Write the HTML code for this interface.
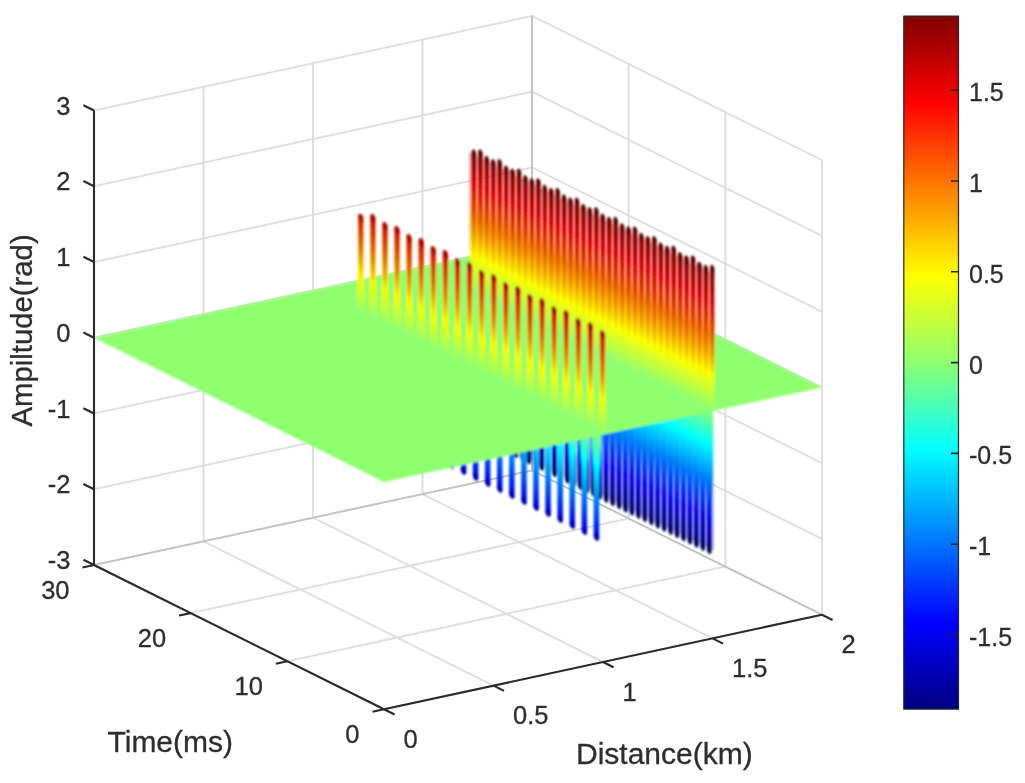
<!DOCTYPE html>
<html lang="en"><head><meta charset="utf-8"><title>Surface plot</title>
<style>html,body{margin:0;padding:0;background:#fff;}body{width:1025px;height:783px;overflow:hidden;}svg{display:block;}text{font-family:"Liberation Sans",sans-serif;fill:#2e2e2e;stroke:#2e2e2e;stroke-width:0.3px;}</style>
</head><body>
<svg width="1025" height="783" viewBox="0 0 1025 783">
<defs>
<linearGradient id="jet" gradientUnits="userSpaceOnUse" x1="0" y1="-144.53" x2="0" y2="144.53">
<stop offset="0" stop-color="#800000"/>
<stop offset="0.125" stop-color="#ff0000"/>
<stop offset="0.375" stop-color="#ffff00"/>
<stop offset="0.5" stop-color="#8fff70"/>
<stop offset="0.625" stop-color="#00ffff"/>
<stop offset="0.875" stop-color="#0000ff"/>
<stop offset="1" stop-color="#000080"/>
</linearGradient>
<linearGradient id="cb" x1="0" y1="0" x2="0" y2="1">
<stop offset="0" stop-color="#800000"/>
<stop offset="0.125" stop-color="#ff0000"/>
<stop offset="0.375" stop-color="#ffff00"/>
<stop offset="0.5" stop-color="#8fff70"/>
<stop offset="0.625" stop-color="#00ffff"/>
<stop offset="0.875" stop-color="#0000ff"/>
<stop offset="1" stop-color="#000080"/>
</linearGradient>
<filter id="soft" filterUnits="userSpaceOnUse" x="0" y="0" width="1025" height="783"><feGaussianBlur stdDeviation="0.8"/></filter>
<linearGradient id="dk" gradientUnits="userSpaceOnUse" x1="0" y1="-144.53" x2="0" y2="144.53">
<stop offset="0" stop-color="#5a0000" stop-opacity="0.7"/>
<stop offset="0.16" stop-color="#5a0000" stop-opacity="0.45"/>
<stop offset="0.3" stop-color="#5a0000" stop-opacity="0.25"/>
<stop offset="0.4" stop-color="#5a0000" stop-opacity="0"/>
<stop offset="0.62" stop-color="#000020" stop-opacity="0"/>
<stop offset="0.86" stop-color="#000020" stop-opacity="0.12"/>
<stop offset="1" stop-color="#000020" stop-opacity="0.42"/>
</linearGradient>
<clipPath id="cl" clipPathUnits="userSpaceOnUse"><rect x="-400" y="-200" width="400.6" height="400"/></clipPath>
</defs>
<rect width="1025" height="783" fill="#fff"/>
<path d="M94,565 L94,110.5 M384,709.3 L94,565 M203.5,541.35 L203.5,86.85 M493.5,685.65 L203.5,541.35 M313,517.7 L313,63.2 M603,662 L313,517.7 M422.5,494.05 L422.5,39.55 M712.5,638.35 L422.5,494.05 M532,470.4 L532,15.9 M822,614.7 L532,470.4 M822,614.7 L822,160.2 M384,709.3 L822,614.7 M725.33,566.6 L725.33,112.1 M287.33,661.2 L725.33,566.6 M628.67,518.5 L628.67,64 M190.67,613.1 L628.67,518.5 M532,470.4 L532,15.9 M94,565 L532,470.4 M94,565 L532,470.4 M532,470.4 L822,614.7 M94,489.25 L532,394.65 M532,394.65 L822,538.95 M94,413.5 L532,318.9 M532,318.9 L822,463.2 M94,337.75 L532,243.15 M532,243.15 L822,387.45 M94,262 L532,167.4 M532,167.4 L822,311.7 M94,186.25 L532,91.65 M532,91.65 L822,235.95 M94,110.5 L532,15.9 M532,15.9 L822,160.2" fill="none" stroke="#000" stroke-opacity="0.125" stroke-width="2" stroke-linecap="round"/>
<path d="M532,470.4 L532,15.9 M94,565 L532,470.4 M822,614.7 L532,470.4" fill="none" stroke="#000" stroke-opacity="0.125" stroke-width="2" stroke-linecap="round"/>
<g filter="url(#soft)">
<g transform="matrix(1,0.49759,0,1,714,410.78)" clip-path="url(#cl)"><rect x="-245.1" y="0" width="245.1" height="140.06" fill="url(#jet)" fill-opacity="0.3"/><path fill="url(#jet)" d="M-8.43,0 L-8.43,10.44 L-8.43,20.89 L-8.43,31.33 L-8.43,41.78 L-8.43,52.22 L-8.35,62.67 L-8.03,73.11 L-7.6,83.56 L-7.24,94 L-7.08,104.44 L-7.08,142.06 L-7.01,142.84 L-6.78,143.56 L-6.42,144.18 L-5.96,144.66 L-5.42,144.96 L-4.83,145.06 L-4.83,145.06 L-4.25,144.96 L-3.71,144.66 L-3.24,144.18 L-2.88,143.56 L-2.66,142.84 L-2.58,142.06 L-2.58,104.44 L-2.43,94 L-2.06,83.56 L-1.64,73.11 L-1.32,62.67 L-1.23,52.22 L-1.23,41.78 L-1.23,31.33 L-1.23,20.89 L-1.23,10.44 L-1.23,0Z M-14.88,0 L-14.88,10.44 L-14.88,20.89 L-14.88,31.33 L-14.88,41.78 L-14.88,52.22 L-14.79,62.67 L-14.47,73.11 L-14.05,83.56 L-13.68,94 L-13.53,104.44 L-13.53,142.06 L-13.45,142.84 L-13.23,143.56 L-12.87,144.18 L-12.4,144.66 L-11.86,144.96 L-11.28,145.06 L-11.28,145.06 L-10.7,144.96 L-10.15,144.66 L-9.69,144.18 L-9.33,143.56 L-9.1,142.84 L-9.03,142.06 L-9.03,104.44 L-8.87,94 L-8.51,83.56 L-8.09,73.11 L-7.76,62.67 L-7.68,52.22 L-7.68,41.78 L-7.68,31.33 L-7.68,20.89 L-7.68,10.44 L-7.68,0Z M-21.32,0 L-21.32,10.44 L-21.32,20.89 L-21.32,31.33 L-21.32,41.78 L-21.32,52.22 L-21.24,62.67 L-20.91,73.11 L-20.49,83.56 L-20.13,94 L-19.97,104.44 L-19.97,142.06 L-19.9,142.84 L-19.67,143.56 L-19.31,144.18 L-18.85,144.66 L-18.3,144.96 L-17.72,145.06 L-17.72,145.06 L-17.14,144.96 L-16.6,144.66 L-16.13,144.18 L-15.77,143.56 L-15.55,142.84 L-15.47,142.06 L-15.47,104.44 L-15.32,94 L-14.95,83.56 L-14.53,73.11 L-14.21,62.67 L-14.12,52.22 L-14.12,41.78 L-14.12,31.33 L-14.12,20.89 L-14.12,10.44 L-14.12,0Z M-27.77,0 L-27.77,10.44 L-27.77,20.89 L-27.77,31.33 L-27.77,41.78 L-27.77,52.22 L-27.68,62.67 L-27.36,73.11 L-26.94,83.56 L-26.57,94 L-26.42,104.44 L-26.42,142.06 L-26.34,142.84 L-26.12,143.56 L-25.76,144.18 L-25.29,144.66 L-24.75,144.96 L-24.17,145.06 L-24.17,145.06 L-23.58,144.96 L-23.04,144.66 L-22.58,144.18 L-22.22,143.56 L-21.99,142.84 L-21.92,142.06 L-21.92,104.44 L-21.76,94 L-21.4,83.56 L-20.97,73.11 L-20.65,62.67 L-20.57,52.22 L-20.57,41.78 L-20.57,31.33 L-20.57,20.89 L-20.57,10.44 L-20.57,0Z M-34.21,0 L-34.21,10.44 L-34.21,20.89 L-34.21,31.33 L-34.21,41.78 L-34.21,52.22 L-34.13,62.67 L-33.8,73.11 L-33.38,83.56 L-33.02,94 L-32.86,104.44 L-32.86,142.06 L-32.78,142.84 L-32.56,143.56 L-32.2,144.18 L-31.74,144.66 L-31.19,144.96 L-30.61,145.06 L-30.61,145.06 L-30.03,144.96 L-29.49,144.66 L-29.02,144.18 L-28.66,143.56 L-28.44,142.84 L-28.36,142.06 L-28.36,104.44 L-28.21,94 L-27.84,83.56 L-27.42,73.11 L-27.1,62.67 L-27.01,52.22 L-27.01,41.78 L-27.01,31.33 L-27.01,20.89 L-27.01,10.44 L-27.01,0Z M-40.66,0 L-40.66,10.44 L-40.66,20.89 L-40.66,31.33 L-40.66,41.78 L-40.66,52.22 L-40.57,62.67 L-40.25,73.11 L-39.83,83.56 L-39.46,94 L-39.31,104.44 L-39.31,142.06 L-39.23,142.84 L-39,143.56 L-38.65,144.18 L-38.18,144.66 L-37.64,144.96 L-37.06,145.06 L-37.06,145.06 L-36.47,144.96 L-35.93,144.66 L-35.46,144.18 L-35.11,143.56 L-34.88,142.84 L-34.81,142.06 L-34.81,104.44 L-34.65,94 L-34.28,83.56 L-33.86,73.11 L-33.54,62.67 L-33.46,52.22 L-33.46,41.78 L-33.46,31.33 L-33.46,20.89 L-33.46,10.44 L-33.46,0Z M-47.1,0 L-47.1,10.44 L-47.1,20.89 L-47.1,31.33 L-47.1,41.78 L-47.1,52.22 L-47.01,62.67 L-46.69,73.11 L-46.27,83.56 L-45.91,94 L-45.75,104.44 L-45.75,142.06 L-45.67,142.84 L-45.45,143.56 L-45.09,144.18 L-44.62,144.66 L-44.08,144.96 L-43.5,145.06 L-43.5,145.06 L-42.92,144.96 L-42.38,144.66 L-41.91,144.18 L-41.55,143.56 L-41.33,142.84 L-41.25,142.06 L-41.25,104.44 L-41.09,94 L-40.73,83.56 L-40.31,73.11 L-39.99,62.67 L-39.9,52.22 L-39.9,41.78 L-39.9,31.33 L-39.9,20.89 L-39.9,10.44 L-39.9,0Z M-53.54,0 L-53.54,10.44 L-53.54,20.89 L-53.54,31.33 L-53.54,41.78 L-53.54,52.22 L-53.46,62.67 L-53.14,73.11 L-52.72,83.56 L-52.35,94 L-52.19,104.44 L-52.19,142.06 L-52.12,142.84 L-51.89,143.56 L-51.54,144.18 L-51.07,144.66 L-50.53,144.96 L-49.94,145.06 L-49.94,145.06 L-49.36,144.96 L-48.82,144.66 L-48.35,144.18 L-48,143.56 L-47.77,142.84 L-47.69,142.06 L-47.69,104.44 L-47.54,94 L-47.17,83.56 L-46.75,73.11 L-46.43,62.67 L-46.34,52.22 L-46.34,41.78 L-46.34,31.33 L-46.34,20.89 L-46.34,10.44 L-46.34,0Z M-59.99,0 L-59.99,10.44 L-59.99,20.89 L-59.99,31.33 L-59.99,41.78 L-59.99,52.22 L-59.9,62.67 L-59.58,73.11 L-59.16,83.56 L-58.79,94 L-58.64,104.44 L-58.64,142.06 L-58.56,142.84 L-58.34,143.56 L-57.98,144.18 L-57.51,144.66 L-56.97,144.96 L-56.39,145.06 L-56.39,145.06 L-55.81,144.96 L-55.26,144.66 L-54.8,144.18 L-54.44,143.56 L-54.22,142.84 L-54.14,142.06 L-54.14,104.44 L-53.98,94 L-53.62,83.56 L-53.2,73.11 L-52.87,62.67 L-52.79,52.22 L-52.79,41.78 L-52.79,31.33 L-52.79,20.89 L-52.79,10.44 L-52.79,0Z M-66.43,0 L-66.43,10.44 L-66.43,20.89 L-66.43,31.33 L-66.43,41.78 L-66.43,52.22 L-66.35,62.67 L-66.03,73.11 L-65.6,83.56 L-65.24,94 L-65.08,104.44 L-65.08,142.06 L-65.01,142.84 L-64.78,143.56 L-64.42,144.18 L-63.96,144.66 L-63.42,144.96 L-62.83,145.06 L-62.83,145.06 L-62.25,144.96 L-61.71,144.66 L-61.24,144.18 L-60.88,143.56 L-60.66,142.84 L-60.58,142.06 L-60.58,104.44 L-60.43,94 L-60.06,83.56 L-59.64,73.11 L-59.32,62.67 L-59.23,52.22 L-59.23,41.78 L-59.23,31.33 L-59.23,20.89 L-59.23,10.44 L-59.23,0Z M-72.88,0 L-72.88,10.44 L-72.88,20.89 L-72.88,31.33 L-72.88,41.78 L-72.88,52.22 L-72.79,62.67 L-72.47,73.11 L-72.05,83.56 L-71.68,94 L-71.53,104.44 L-71.53,142.06 L-71.45,142.84 L-71.23,143.56 L-70.87,144.18 L-70.4,144.66 L-69.86,144.96 L-69.28,145.06 L-69.28,145.06 L-68.7,144.96 L-68.15,144.66 L-67.69,144.18 L-67.33,143.56 L-67.1,142.84 L-67.03,142.06 L-67.03,104.44 L-66.87,94 L-66.51,83.56 L-66.09,73.11 L-65.76,62.67 L-65.68,52.22 L-65.68,41.78 L-65.68,31.33 L-65.68,20.89 L-65.68,10.44 L-65.68,0Z M-79.32,0 L-79.32,10.44 L-79.32,20.89 L-79.32,31.33 L-79.32,41.78 L-79.32,52.22 L-79.24,62.67 L-78.91,73.11 L-78.49,83.56 L-78.13,94 L-77.97,104.44 L-77.97,142.06 L-77.9,142.84 L-77.67,143.56 L-77.31,144.18 L-76.85,144.66 L-76.3,144.96 L-75.72,145.06 L-75.72,145.06 L-75.14,144.96 L-74.6,144.66 L-74.13,144.18 L-73.77,143.56 L-73.55,142.84 L-73.47,142.06 L-73.47,104.44 L-73.32,94 L-72.95,83.56 L-72.53,73.11 L-72.21,62.67 L-72.12,52.22 L-72.12,41.78 L-72.12,31.33 L-72.12,20.89 L-72.12,10.44 L-72.12,0Z M-85.77,0 L-85.77,10.44 L-85.77,20.89 L-85.77,31.33 L-85.77,41.78 L-85.77,52.22 L-85.68,62.67 L-85.36,73.11 L-84.94,83.56 L-84.57,94 L-84.42,104.44 L-84.42,142.06 L-84.34,142.84 L-84.12,143.56 L-83.76,144.18 L-83.29,144.66 L-82.75,144.96 L-82.17,145.06 L-82.17,145.06 L-81.58,144.96 L-81.04,144.66 L-80.58,144.18 L-80.22,143.56 L-79.99,142.84 L-79.92,142.06 L-79.92,104.44 L-79.76,94 L-79.4,83.56 L-78.97,73.11 L-78.65,62.67 L-78.57,52.22 L-78.57,41.78 L-78.57,31.33 L-78.57,20.89 L-78.57,10.44 L-78.57,0Z M-92.21,0 L-92.21,10.44 L-92.21,20.89 L-92.21,31.33 L-92.21,41.78 L-92.21,52.22 L-92.13,62.67 L-91.8,73.11 L-91.38,83.56 L-91.02,94 L-90.86,104.44 L-90.86,142.06 L-90.78,142.84 L-90.56,143.56 L-90.2,144.18 L-89.74,144.66 L-89.19,144.96 L-88.61,145.06 L-88.61,145.06 L-88.03,144.96 L-87.49,144.66 L-87.02,144.18 L-86.66,143.56 L-86.44,142.84 L-86.36,142.06 L-86.36,104.44 L-86.21,94 L-85.84,83.56 L-85.42,73.11 L-85.1,62.67 L-85.01,52.22 L-85.01,41.78 L-85.01,31.33 L-85.01,20.89 L-85.01,10.44 L-85.01,0Z M-98.66,0 L-98.66,10.44 L-98.66,20.89 L-98.66,31.33 L-98.66,41.78 L-98.66,52.22 L-98.57,62.67 L-98.25,73.11 L-97.83,83.56 L-97.46,94 L-97.31,104.44 L-97.31,142.06 L-97.23,142.84 L-97,143.56 L-96.65,144.18 L-96.18,144.66 L-95.64,144.96 L-95.06,145.06 L-95.06,145.06 L-94.47,144.96 L-93.93,144.66 L-93.46,144.18 L-93.11,143.56 L-92.88,142.84 L-92.81,142.06 L-92.81,104.44 L-92.65,94 L-92.28,83.56 L-91.86,73.11 L-91.54,62.67 L-91.46,52.22 L-91.46,41.78 L-91.46,31.33 L-91.46,20.89 L-91.46,10.44 L-91.46,0Z M-105.1,0 L-105.1,10.44 L-105.1,20.89 L-105.1,31.33 L-105.1,41.78 L-105.1,52.22 L-105.01,62.67 L-104.69,73.11 L-104.27,83.56 L-103.91,94 L-103.75,104.44 L-103.75,142.06 L-103.67,142.84 L-103.45,143.56 L-103.09,144.18 L-102.62,144.66 L-102.08,144.96 L-101.5,145.06 L-101.5,145.06 L-100.92,144.96 L-100.38,144.66 L-99.91,144.18 L-99.55,143.56 L-99.33,142.84 L-99.25,142.06 L-99.25,104.44 L-99.09,94 L-98.73,83.56 L-98.31,73.11 L-97.99,62.67 L-97.9,52.22 L-97.9,41.78 L-97.9,31.33 L-97.9,20.89 L-97.9,10.44 L-97.9,0Z M-111.54,0 L-111.54,10.44 L-111.54,20.89 L-111.54,31.33 L-111.54,41.78 L-111.54,52.22 L-111.46,62.67 L-111.14,73.11 L-110.72,83.56 L-110.35,94 L-110.19,104.44 L-110.19,142.06 L-110.12,142.84 L-109.89,143.56 L-109.54,144.18 L-109.07,144.66 L-108.53,144.96 L-107.94,145.06 L-107.94,145.06 L-107.36,144.96 L-106.82,144.66 L-106.35,144.18 L-106,143.56 L-105.77,142.84 L-105.69,142.06 L-105.69,104.44 L-105.54,94 L-105.17,83.56 L-104.75,73.11 L-104.43,62.67 L-104.34,52.22 L-104.34,41.78 L-104.34,31.33 L-104.34,20.89 L-104.34,10.44 L-104.34,0Z M-117.99,0 L-117.99,10.44 L-117.99,20.89 L-117.99,31.33 L-117.99,41.78 L-117.99,52.22 L-117.9,62.67 L-117.58,73.11 L-117.16,83.56 L-116.79,94 L-116.64,104.44 L-116.64,142.06 L-116.56,142.84 L-116.34,143.56 L-115.98,144.18 L-115.51,144.66 L-114.97,144.96 L-114.39,145.06 L-114.39,145.06 L-113.81,144.96 L-113.26,144.66 L-112.8,144.18 L-112.44,143.56 L-112.22,142.84 L-112.14,142.06 L-112.14,104.44 L-111.98,94 L-111.62,83.56 L-111.2,73.11 L-110.87,62.67 L-110.79,52.22 L-110.79,41.78 L-110.79,31.33 L-110.79,20.89 L-110.79,10.44 L-110.79,0Z M-124.43,0 L-124.43,10.44 L-124.43,20.89 L-124.43,31.33 L-124.43,41.78 L-124.43,52.22 L-124.35,62.67 L-124.03,73.11 L-123.6,83.56 L-123.24,94 L-123.08,104.44 L-123.08,142.06 L-123.01,142.84 L-122.78,143.56 L-122.42,144.18 L-121.96,144.66 L-121.42,144.96 L-120.83,145.06 L-120.83,145.06 L-120.25,144.96 L-119.71,144.66 L-119.24,144.18 L-118.88,143.56 L-118.66,142.84 L-118.58,142.06 L-118.58,104.44 L-118.43,94 L-118.06,83.56 L-117.64,73.11 L-117.32,62.67 L-117.23,52.22 L-117.23,41.78 L-117.23,31.33 L-117.23,20.89 L-117.23,10.44 L-117.23,0Z M-130.88,0 L-130.88,10.44 L-130.88,20.89 L-130.88,31.33 L-130.88,41.78 L-130.88,52.22 L-130.79,62.67 L-130.47,73.11 L-130.05,83.56 L-129.68,94 L-129.53,104.44 L-129.53,142.06 L-129.45,142.84 L-129.23,143.56 L-128.87,144.18 L-128.4,144.66 L-127.86,144.96 L-127.28,145.06 L-127.28,145.06 L-126.7,144.96 L-126.15,144.66 L-125.69,144.18 L-125.33,143.56 L-125.1,142.84 L-125.03,142.06 L-125.03,104.44 L-124.87,94 L-124.51,83.56 L-124.09,73.11 L-123.76,62.67 L-123.68,52.22 L-123.68,41.78 L-123.68,31.33 L-123.68,20.89 L-123.68,10.44 L-123.68,0Z M-137.32,0 L-137.32,10.44 L-137.32,20.89 L-137.32,31.33 L-137.32,41.78 L-137.32,52.22 L-137.24,62.67 L-136.91,73.11 L-136.49,83.56 L-136.13,94 L-135.97,104.44 L-135.97,142.06 L-135.9,142.84 L-135.67,143.56 L-135.31,144.18 L-134.85,144.66 L-134.3,144.96 L-133.72,145.06 L-133.72,145.06 L-133.14,144.96 L-132.6,144.66 L-132.13,144.18 L-131.77,143.56 L-131.55,142.84 L-131.47,142.06 L-131.47,104.44 L-131.32,94 L-130.95,83.56 L-130.53,73.11 L-130.21,62.67 L-130.12,52.22 L-130.12,41.78 L-130.12,31.33 L-130.12,20.89 L-130.12,10.44 L-130.12,0Z M-143.77,0 L-143.77,10.44 L-143.77,20.89 L-143.77,31.33 L-143.77,41.78 L-143.77,52.22 L-143.68,62.67 L-143.36,73.11 L-142.94,83.56 L-142.57,94 L-142.42,104.44 L-142.42,142.06 L-142.34,142.84 L-142.12,143.56 L-141.76,144.18 L-141.29,144.66 L-140.75,144.96 L-140.17,145.06 L-140.17,145.06 L-139.58,144.96 L-139.04,144.66 L-138.58,144.18 L-138.22,143.56 L-137.99,142.84 L-137.92,142.06 L-137.92,104.44 L-137.76,94 L-137.4,83.56 L-136.97,73.11 L-136.65,62.67 L-136.57,52.22 L-136.57,41.78 L-136.57,31.33 L-136.57,20.89 L-136.57,10.44 L-136.57,0Z M-150.21,0 L-150.21,10.44 L-150.21,20.89 L-150.21,31.33 L-150.21,41.78 L-150.21,52.22 L-150.13,62.67 L-149.8,73.11 L-149.38,83.56 L-149.02,94 L-148.86,104.44 L-148.86,142.06 L-148.78,142.84 L-148.56,143.56 L-148.2,144.18 L-147.74,144.66 L-147.19,144.96 L-146.61,145.06 L-146.61,145.06 L-146.03,144.96 L-145.49,144.66 L-145.02,144.18 L-144.66,143.56 L-144.44,142.84 L-144.36,142.06 L-144.36,104.44 L-144.21,94 L-143.84,83.56 L-143.42,73.11 L-143.1,62.67 L-143.01,52.22 L-143.01,41.78 L-143.01,31.33 L-143.01,20.89 L-143.01,10.44 L-143.01,0Z M-156.66,0 L-156.66,10.44 L-156.66,20.89 L-156.66,31.33 L-156.66,41.78 L-156.66,52.22 L-156.57,62.67 L-156.25,73.11 L-155.83,83.56 L-155.46,94 L-155.31,104.44 L-155.31,142.06 L-155.23,142.84 L-155,143.56 L-154.65,144.18 L-154.18,144.66 L-153.64,144.96 L-153.06,145.06 L-153.06,145.06 L-152.47,144.96 L-151.93,144.66 L-151.46,144.18 L-151.11,143.56 L-150.88,142.84 L-150.81,142.06 L-150.81,104.44 L-150.65,94 L-150.28,83.56 L-149.86,73.11 L-149.54,62.67 L-149.46,52.22 L-149.46,41.78 L-149.46,31.33 L-149.46,20.89 L-149.46,10.44 L-149.46,0Z M-163.1,0 L-163.1,10.44 L-163.1,20.89 L-163.1,31.33 L-163.1,41.78 L-163.1,52.22 L-163.01,62.67 L-162.69,73.11 L-162.27,83.56 L-161.91,94 L-161.75,104.44 L-161.75,142.06 L-161.67,142.84 L-161.45,143.56 L-161.09,144.18 L-160.62,144.66 L-160.08,144.96 L-159.5,145.06 L-159.5,145.06 L-158.92,144.96 L-158.38,144.66 L-157.91,144.18 L-157.55,143.56 L-157.33,142.84 L-157.25,142.06 L-157.25,104.44 L-157.09,94 L-156.73,83.56 L-156.31,73.11 L-155.99,62.67 L-155.9,52.22 L-155.9,41.78 L-155.9,31.33 L-155.9,20.89 L-155.9,10.44 L-155.9,0Z M-169.54,0 L-169.54,10.44 L-169.54,20.89 L-169.54,31.33 L-169.54,41.78 L-169.54,52.22 L-169.46,62.67 L-169.14,73.11 L-168.72,83.56 L-168.35,94 L-168.19,104.44 L-168.19,142.06 L-168.12,142.84 L-167.89,143.56 L-167.54,144.18 L-167.07,144.66 L-166.53,144.96 L-165.94,145.06 L-165.94,145.06 L-165.36,144.96 L-164.82,144.66 L-164.35,144.18 L-164,143.56 L-163.77,142.84 L-163.69,142.06 L-163.69,104.44 L-163.54,94 L-163.17,83.56 L-162.75,73.11 L-162.43,62.67 L-162.34,52.22 L-162.34,41.78 L-162.34,31.33 L-162.34,20.89 L-162.34,10.44 L-162.34,0Z M-175.99,0 L-175.99,10.44 L-175.99,20.89 L-175.99,31.33 L-175.99,41.78 L-175.99,52.22 L-175.9,62.67 L-175.58,73.11 L-175.16,83.56 L-174.79,94 L-174.64,104.44 L-174.64,142.06 L-174.56,142.84 L-174.34,143.56 L-173.98,144.18 L-173.51,144.66 L-172.97,144.96 L-172.39,145.06 L-172.39,145.06 L-171.81,144.96 L-171.26,144.66 L-170.8,144.18 L-170.44,143.56 L-170.22,142.84 L-170.14,142.06 L-170.14,104.44 L-169.98,94 L-169.62,83.56 L-169.2,73.11 L-168.87,62.67 L-168.79,52.22 L-168.79,41.78 L-168.79,31.33 L-168.79,20.89 L-168.79,10.44 L-168.79,0Z M-182.43,0 L-182.43,10.44 L-182.43,20.89 L-182.43,31.33 L-182.43,41.78 L-182.43,52.22 L-182.35,62.67 L-182.03,73.11 L-181.6,83.56 L-181.24,94 L-181.08,104.44 L-181.08,142.06 L-181.01,142.84 L-180.78,143.56 L-180.42,144.18 L-179.96,144.66 L-179.42,144.96 L-178.83,145.06 L-178.83,145.06 L-178.25,144.96 L-177.71,144.66 L-177.24,144.18 L-176.88,143.56 L-176.66,142.84 L-176.58,142.06 L-176.58,104.44 L-176.43,94 L-176.06,83.56 L-175.64,73.11 L-175.32,62.67 L-175.23,52.22 L-175.23,41.78 L-175.23,31.33 L-175.23,20.89 L-175.23,10.44 L-175.23,0Z M-188.88,0 L-188.88,10.44 L-188.88,20.89 L-188.88,31.33 L-188.88,41.78 L-188.88,52.22 L-188.79,62.67 L-188.47,73.11 L-188.05,83.56 L-187.68,94 L-187.53,104.44 L-187.53,142.06 L-187.45,142.84 L-187.23,143.56 L-186.87,144.18 L-186.4,144.66 L-185.86,144.96 L-185.28,145.06 L-185.28,145.06 L-184.7,144.96 L-184.15,144.66 L-183.69,144.18 L-183.33,143.56 L-183.1,142.84 L-183.03,142.06 L-183.03,104.44 L-182.87,94 L-182.51,83.56 L-182.09,73.11 L-181.76,62.67 L-181.68,52.22 L-181.68,41.78 L-181.68,31.33 L-181.68,20.89 L-181.68,10.44 L-181.68,0Z M-195.32,0 L-195.32,10.44 L-195.32,20.89 L-195.32,31.33 L-195.32,41.78 L-195.32,52.22 L-195.24,62.67 L-194.91,73.11 L-194.49,83.56 L-194.13,94 L-193.97,104.44 L-193.97,142.06 L-193.9,142.84 L-193.67,143.56 L-193.31,144.18 L-192.85,144.66 L-192.3,144.96 L-191.72,145.06 L-191.72,145.06 L-191.14,144.96 L-190.6,144.66 L-190.13,144.18 L-189.77,143.56 L-189.55,142.84 L-189.47,142.06 L-189.47,104.44 L-189.32,94 L-188.95,83.56 L-188.53,73.11 L-188.21,62.67 L-188.12,52.22 L-188.12,41.78 L-188.12,31.33 L-188.12,20.89 L-188.12,10.44 L-188.12,0Z M-201.77,0 L-201.77,10.44 L-201.77,20.89 L-201.77,31.33 L-201.77,41.78 L-201.77,52.22 L-201.68,62.67 L-201.36,73.11 L-200.94,83.56 L-200.57,94 L-200.42,104.44 L-200.42,142.06 L-200.34,142.84 L-200.12,143.56 L-199.76,144.18 L-199.29,144.66 L-198.75,144.96 L-198.17,145.06 L-198.17,145.06 L-197.58,144.96 L-197.04,144.66 L-196.58,144.18 L-196.22,143.56 L-195.99,142.84 L-195.92,142.06 L-195.92,104.44 L-195.76,94 L-195.4,83.56 L-194.97,73.11 L-194.65,62.67 L-194.57,52.22 L-194.57,41.78 L-194.57,31.33 L-194.57,20.89 L-194.57,10.44 L-194.57,0Z M-208.21,0 L-208.21,10.44 L-208.21,20.89 L-208.21,31.33 L-208.21,41.78 L-208.21,52.22 L-208.13,62.67 L-207.8,73.11 L-207.38,83.56 L-207.02,94 L-206.86,104.44 L-206.86,142.06 L-206.78,142.84 L-206.56,143.56 L-206.2,144.18 L-205.74,144.66 L-205.19,144.96 L-204.61,145.06 L-204.61,145.06 L-204.03,144.96 L-203.49,144.66 L-203.02,144.18 L-202.66,143.56 L-202.44,142.84 L-202.36,142.06 L-202.36,104.44 L-202.21,94 L-201.84,83.56 L-201.42,73.11 L-201.1,62.67 L-201.01,52.22 L-201.01,41.78 L-201.01,31.33 L-201.01,20.89 L-201.01,10.44 L-201.01,0Z M-214.66,0 L-214.66,10.44 L-214.66,20.89 L-214.66,31.33 L-214.66,41.78 L-214.66,52.22 L-214.57,62.67 L-214.25,73.11 L-213.83,83.56 L-213.46,94 L-213.31,104.44 L-213.31,142.06 L-213.23,142.84 L-213,143.56 L-212.65,144.18 L-212.18,144.66 L-211.64,144.96 L-211.06,145.06 L-211.06,145.06 L-210.47,144.96 L-209.93,144.66 L-209.46,144.18 L-209.11,143.56 L-208.88,142.84 L-208.81,142.06 L-208.81,104.44 L-208.65,94 L-208.28,83.56 L-207.86,73.11 L-207.54,62.67 L-207.46,52.22 L-207.46,41.78 L-207.46,31.33 L-207.46,20.89 L-207.46,10.44 L-207.46,0Z M-221.1,0 L-221.1,10.44 L-221.1,20.89 L-221.1,31.33 L-221.1,41.78 L-221.1,52.22 L-221.01,62.67 L-220.69,73.11 L-220.27,83.56 L-219.91,94 L-219.75,104.44 L-219.75,142.06 L-219.67,142.84 L-219.45,143.56 L-219.09,144.18 L-218.62,144.66 L-218.08,144.96 L-217.5,145.06 L-217.5,145.06 L-216.92,144.96 L-216.38,144.66 L-215.91,144.18 L-215.55,143.56 L-215.33,142.84 L-215.25,142.06 L-215.25,104.44 L-215.09,94 L-214.73,83.56 L-214.31,73.11 L-213.99,62.67 L-213.9,52.22 L-213.9,41.78 L-213.9,31.33 L-213.9,20.89 L-213.9,10.44 L-213.9,0Z M-227.54,0 L-227.54,10.44 L-227.54,20.89 L-227.54,31.33 L-227.54,41.78 L-227.54,52.22 L-227.46,62.67 L-227.14,73.11 L-226.72,83.56 L-226.35,94 L-226.19,104.44 L-226.19,142.06 L-226.12,142.84 L-225.89,143.56 L-225.54,144.18 L-225.07,144.66 L-224.53,144.96 L-223.94,145.06 L-223.94,145.06 L-223.36,144.96 L-222.82,144.66 L-222.35,144.18 L-222,143.56 L-221.77,142.84 L-221.69,142.06 L-221.69,104.44 L-221.54,94 L-221.17,83.56 L-220.75,73.11 L-220.43,62.67 L-220.34,52.22 L-220.34,41.78 L-220.34,31.33 L-220.34,20.89 L-220.34,10.44 L-220.34,0Z M-233.99,0 L-233.99,10.44 L-233.99,20.89 L-233.99,31.33 L-233.99,41.78 L-233.99,52.22 L-233.9,62.67 L-233.58,73.11 L-233.16,83.56 L-232.79,94 L-232.64,104.44 L-232.64,142.06 L-232.56,142.84 L-232.34,143.56 L-231.98,144.18 L-231.51,144.66 L-230.97,144.96 L-230.39,145.06 L-230.39,145.06 L-229.81,144.96 L-229.26,144.66 L-228.8,144.18 L-228.44,143.56 L-228.22,142.84 L-228.14,142.06 L-228.14,104.44 L-227.98,94 L-227.62,83.56 L-227.2,73.11 L-226.87,62.67 L-226.79,52.22 L-226.79,41.78 L-226.79,31.33 L-226.79,20.89 L-226.79,10.44 L-226.79,0Z M-240.43,0 L-240.43,10.44 L-240.43,20.89 L-240.43,31.33 L-240.43,41.78 L-240.43,52.22 L-240.35,62.67 L-240.03,73.11 L-239.6,83.56 L-239.24,94 L-239.08,104.44 L-239.08,142.06 L-239.01,142.84 L-238.78,143.56 L-238.42,144.18 L-237.96,144.66 L-237.42,144.96 L-236.83,145.06 L-236.83,145.06 L-236.25,144.96 L-235.71,144.66 L-235.24,144.18 L-234.88,143.56 L-234.66,142.84 L-234.58,142.06 L-234.58,104.44 L-234.43,94 L-234.06,83.56 L-233.64,73.11 L-233.32,62.67 L-233.23,52.22 L-233.23,41.78 L-233.23,31.33 L-233.23,20.89 L-233.23,10.44 L-233.23,0Z M-246.88,0 L-246.88,10.44 L-246.88,20.89 L-246.88,31.33 L-246.88,41.78 L-246.88,52.22 L-246.79,62.67 L-246.47,73.11 L-246.05,83.56 L-245.68,94 L-245.53,104.44 L-245.53,142.06 L-245.45,142.84 L-245.23,143.56 L-244.87,144.18 L-244.4,144.66 L-243.86,144.96 L-243.28,145.06 L-243.28,145.06 L-242.7,144.96 L-242.15,144.66 L-241.69,144.18 L-241.33,143.56 L-241.1,142.84 L-241.03,142.06 L-241.03,104.44 L-240.87,94 L-240.51,83.56 L-240.09,73.11 L-239.76,62.67 L-239.68,52.22 L-239.68,41.78 L-239.68,31.33 L-239.68,20.89 L-239.68,10.44 L-239.68,0Z"/><path fill="url(#dk)" d="M-5.93,143.06 L-3.73,143.06 L-3.73,30.3 L-5.93,30.3Z M-12.38,143.06 L-10.18,143.06 L-10.18,30.3 L-12.38,30.3Z M-18.82,143.06 L-16.62,143.06 L-16.62,30.3 L-18.82,30.3Z M-25.27,143.06 L-23.07,143.06 L-23.07,30.3 L-25.27,30.3Z M-31.71,143.06 L-29.51,143.06 L-29.51,30.3 L-31.71,30.3Z M-38.16,143.06 L-35.96,143.06 L-35.96,30.3 L-38.16,30.3Z M-44.6,143.06 L-42.4,143.06 L-42.4,30.3 L-44.6,30.3Z M-51.04,143.06 L-48.84,143.06 L-48.84,30.3 L-51.04,30.3Z M-57.49,143.06 L-55.29,143.06 L-55.29,30.3 L-57.49,30.3Z M-63.93,143.06 L-61.73,143.06 L-61.73,30.3 L-63.93,30.3Z M-70.38,143.06 L-68.18,143.06 L-68.18,30.3 L-70.38,30.3Z M-76.82,143.06 L-74.62,143.06 L-74.62,30.3 L-76.82,30.3Z M-83.27,143.06 L-81.07,143.06 L-81.07,30.3 L-83.27,30.3Z M-89.71,143.06 L-87.51,143.06 L-87.51,30.3 L-89.71,30.3Z M-96.16,143.06 L-93.96,143.06 L-93.96,30.3 L-96.16,30.3Z M-102.6,143.06 L-100.4,143.06 L-100.4,30.3 L-102.6,30.3Z M-109.04,143.06 L-106.84,143.06 L-106.84,30.3 L-109.04,30.3Z M-115.49,143.06 L-113.29,143.06 L-113.29,30.3 L-115.49,30.3Z M-121.93,143.06 L-119.73,143.06 L-119.73,30.3 L-121.93,30.3Z M-128.38,143.06 L-126.18,143.06 L-126.18,30.3 L-128.38,30.3Z M-134.82,143.06 L-132.62,143.06 L-132.62,30.3 L-134.82,30.3Z M-141.27,143.06 L-139.07,143.06 L-139.07,30.3 L-141.27,30.3Z M-147.71,143.06 L-145.51,143.06 L-145.51,30.3 L-147.71,30.3Z M-154.16,143.06 L-151.96,143.06 L-151.96,30.3 L-154.16,30.3Z M-160.6,143.06 L-158.4,143.06 L-158.4,30.3 L-160.6,30.3Z M-167.04,143.06 L-164.84,143.06 L-164.84,30.3 L-167.04,30.3Z M-173.49,143.06 L-171.29,143.06 L-171.29,30.3 L-173.49,30.3Z M-179.93,143.06 L-177.73,143.06 L-177.73,30.3 L-179.93,30.3Z M-186.38,143.06 L-184.18,143.06 L-184.18,30.3 L-186.38,30.3Z M-192.82,143.06 L-190.62,143.06 L-190.62,30.3 L-192.82,30.3Z M-199.27,143.06 L-197.07,143.06 L-197.07,30.3 L-199.27,30.3Z M-205.71,143.06 L-203.51,143.06 L-203.51,30.3 L-205.71,30.3Z M-212.16,143.06 L-209.96,143.06 L-209.96,30.3 L-212.16,30.3Z M-218.6,143.06 L-216.4,143.06 L-216.4,30.3 L-218.6,30.3Z M-225.04,143.06 L-222.84,143.06 L-222.84,30.3 L-225.04,30.3Z M-231.49,143.06 L-229.29,143.06 L-229.29,30.3 L-231.49,30.3Z M-237.93,143.06 L-235.73,143.06 L-235.73,30.3 L-237.93,30.3Z M-244.38,143.06 L-242.18,143.06 L-242.18,30.3 L-244.38,30.3Z"/><g fill="#000030" fill-opacity="0.45"><ellipse cx="-4.83" cy="141.56" rx="2.14" ry="4.5"/><ellipse cx="-11.28" cy="141.56" rx="2.14" ry="4.5"/><ellipse cx="-17.72" cy="141.56" rx="2.14" ry="4.5"/><ellipse cx="-24.17" cy="141.56" rx="2.14" ry="4.5"/><ellipse cx="-30.61" cy="141.56" rx="2.14" ry="4.5"/><ellipse cx="-37.06" cy="141.56" rx="2.14" ry="4.5"/><ellipse cx="-43.5" cy="141.56" rx="2.14" ry="4.5"/><ellipse cx="-49.94" cy="141.56" rx="2.14" ry="4.5"/><ellipse cx="-56.39" cy="141.56" rx="2.14" ry="4.5"/><ellipse cx="-62.83" cy="141.56" rx="2.14" ry="4.5"/><ellipse cx="-69.28" cy="141.56" rx="2.14" ry="4.5"/><ellipse cx="-75.72" cy="141.56" rx="2.14" ry="4.5"/><ellipse cx="-82.17" cy="141.56" rx="2.14" ry="4.5"/><ellipse cx="-88.61" cy="141.56" rx="2.14" ry="4.5"/><ellipse cx="-95.06" cy="141.56" rx="2.14" ry="4.5"/><ellipse cx="-101.5" cy="141.56" rx="2.14" ry="4.5"/><ellipse cx="-107.94" cy="141.56" rx="2.14" ry="4.5"/><ellipse cx="-114.39" cy="141.56" rx="2.14" ry="4.5"/><ellipse cx="-120.83" cy="141.56" rx="2.14" ry="4.5"/><ellipse cx="-127.28" cy="141.56" rx="2.14" ry="4.5"/><ellipse cx="-133.72" cy="141.56" rx="2.14" ry="4.5"/><ellipse cx="-140.17" cy="141.56" rx="2.14" ry="4.5"/><ellipse cx="-146.61" cy="141.56" rx="2.14" ry="4.5"/><ellipse cx="-153.06" cy="141.56" rx="2.14" ry="4.5"/><ellipse cx="-159.5" cy="141.56" rx="2.14" ry="4.5"/><ellipse cx="-165.94" cy="141.56" rx="2.14" ry="4.5"/><ellipse cx="-172.39" cy="141.56" rx="2.14" ry="4.5"/><ellipse cx="-178.83" cy="141.56" rx="2.14" ry="4.5"/><ellipse cx="-185.28" cy="141.56" rx="2.14" ry="4.5"/><ellipse cx="-191.72" cy="141.56" rx="2.14" ry="4.5"/><ellipse cx="-198.17" cy="141.56" rx="2.14" ry="4.5"/><ellipse cx="-204.61" cy="141.56" rx="2.14" ry="4.5"/><ellipse cx="-211.06" cy="141.56" rx="2.14" ry="4.5"/><ellipse cx="-217.5" cy="141.56" rx="2.14" ry="4.5"/><ellipse cx="-223.94" cy="141.56" rx="2.14" ry="4.5"/><ellipse cx="-230.39" cy="141.56" rx="2.14" ry="4.5"/><ellipse cx="-236.83" cy="141.56" rx="2.14" ry="4.5"/><ellipse cx="-243.28" cy="141.56" rx="2.14" ry="4.5"/></g></g>
<g transform="matrix(1,0.49759,0,1,605.5,434.21)" clip-path="url(#cl)"><path fill="url(#jet)" d="M-13.66,0 L-13.66,4.98 L-13.66,9.95 L-13.61,14.93 L-13.42,19.91 L-13.14,24.88 L-12.8,29.86 L-12.46,34.84 L-12.16,39.81 L-11.94,44.79 L-11.86,49.77 L-11.86,107.59 L-11.77,108.37 L-11.49,109.09 L-11.04,109.72 L-10.46,110.19 L-9.79,110.49 L-9.06,110.59 L-9.06,110.59 L-8.34,110.49 L-7.66,110.19 L-7.08,109.72 L-6.64,109.09 L-6.36,108.37 L-6.26,107.59 L-6.26,49.77 L-6.18,44.79 L-5.97,39.81 L-5.67,34.84 L-5.32,29.86 L-4.99,24.88 L-4.7,19.91 L-4.51,14.93 L-4.46,9.95 L-4.46,4.98 L-4.46,0Z M-25.75,0 L-25.75,4.98 L-25.75,9.95 L-25.7,14.93 L-25.51,19.91 L-25.22,24.88 L-24.88,29.86 L-24.54,34.84 L-24.24,39.81 L-24.03,44.79 L-23.95,49.77 L-23.95,107.59 L-23.85,108.37 L-23.57,109.09 L-23.13,109.72 L-22.55,110.19 L-21.87,110.49 L-21.15,110.59 L-21.15,110.59 L-20.42,110.49 L-19.75,110.19 L-19.17,109.72 L-18.72,109.09 L-18.44,108.37 L-18.35,107.59 L-18.35,49.77 L-18.26,44.79 L-18.05,39.81 L-17.75,34.84 L-17.41,29.86 L-17.07,24.88 L-16.78,19.91 L-16.6,14.93 L-16.55,9.95 L-16.55,4.98 L-16.55,0Z M-37.83,0 L-37.83,4.98 L-37.83,9.95 L-37.78,14.93 L-37.59,19.91 L-37.3,24.88 L-36.97,29.86 L-36.63,34.84 L-36.33,39.81 L-36.11,44.79 L-36.03,49.77 L-36.03,107.59 L-35.93,108.37 L-35.65,109.09 L-35.21,109.72 L-34.63,110.19 L-33.95,110.49 L-33.23,110.59 L-33.23,110.59 L-32.5,110.49 L-31.83,110.19 L-31.25,109.72 L-30.8,109.09 L-30.52,108.37 L-30.43,107.59 L-30.43,49.77 L-30.35,44.79 L-30.13,39.81 L-29.83,34.84 L-29.49,29.86 L-29.15,24.88 L-28.87,19.91 L-28.68,14.93 L-28.63,9.95 L-28.63,4.98 L-28.63,0Z M-49.91,0 L-49.91,4.98 L-49.91,9.95 L-49.86,14.93 L-49.67,19.91 L-49.39,24.88 L-49.05,29.86 L-48.71,34.84 L-48.41,39.81 L-48.19,44.79 L-48.11,49.77 L-48.11,107.59 L-48.02,108.37 L-47.74,109.09 L-47.29,109.72 L-46.71,110.19 L-46.04,110.49 L-45.31,110.59 L-45.31,110.59 L-44.59,110.49 L-43.91,110.19 L-43.33,109.72 L-42.89,109.09 L-42.61,108.37 L-42.51,107.59 L-42.51,49.77 L-42.43,44.79 L-42.22,39.81 L-41.92,34.84 L-41.57,29.86 L-41.24,24.88 L-40.95,19.91 L-40.76,14.93 L-40.71,9.95 L-40.71,4.98 L-40.71,0Z M-62,0 L-62,4.98 L-62,9.95 L-61.95,14.93 L-61.76,19.91 L-61.47,24.88 L-61.13,29.86 L-60.79,34.84 L-60.49,39.81 L-60.28,44.79 L-60.2,49.77 L-60.2,107.59 L-60.1,108.37 L-59.82,109.09 L-59.38,109.72 L-58.8,110.19 L-58.12,110.49 L-57.4,110.59 L-57.4,110.59 L-56.67,110.49 L-56,110.19 L-55.42,109.72 L-54.97,109.09 L-54.69,108.37 L-54.6,107.59 L-54.6,49.77 L-54.51,44.79 L-54.3,39.81 L-54,34.84 L-53.66,29.86 L-53.32,24.88 L-53.03,19.91 L-52.85,14.93 L-52.8,9.95 L-52.8,4.98 L-52.8,0Z M-74.08,0 L-74.08,4.98 L-74.08,9.95 L-74.03,14.93 L-73.84,19.91 L-73.55,24.88 L-73.22,29.86 L-72.88,34.84 L-72.58,39.81 L-72.36,44.79 L-72.28,49.77 L-72.28,107.59 L-72.18,108.37 L-71.9,109.09 L-71.46,109.72 L-70.88,110.19 L-70.2,110.49 L-69.48,110.59 L-69.48,110.59 L-68.75,110.49 L-68.08,110.19 L-67.5,109.72 L-67.05,109.09 L-66.77,108.37 L-66.68,107.59 L-66.68,49.77 L-66.6,44.79 L-66.38,39.81 L-66.08,34.84 L-65.74,29.86 L-65.4,24.88 L-65.12,19.91 L-64.93,14.93 L-64.88,9.95 L-64.88,4.98 L-64.88,0Z M-86.16,0 L-86.16,4.98 L-86.16,9.95 L-86.11,14.93 L-85.92,19.91 L-85.64,24.88 L-85.3,29.86 L-84.96,34.84 L-84.66,39.81 L-84.44,44.79 L-84.36,49.77 L-84.36,107.59 L-84.27,108.37 L-83.99,109.09 L-83.54,109.72 L-82.96,110.19 L-82.29,110.49 L-81.56,110.59 L-81.56,110.59 L-80.84,110.49 L-80.16,110.19 L-79.58,109.72 L-79.14,109.09 L-78.86,108.37 L-78.76,107.59 L-78.76,49.77 L-78.68,44.79 L-78.47,39.81 L-78.17,34.84 L-77.82,29.86 L-77.49,24.88 L-77.2,19.91 L-77.01,14.93 L-76.96,9.95 L-76.96,4.98 L-76.96,0Z M-98.25,0 L-98.25,4.98 L-98.25,9.95 L-98.2,14.93 L-98.01,19.91 L-97.72,24.88 L-97.38,29.86 L-97.04,34.84 L-96.74,39.81 L-96.53,44.79 L-96.45,49.77 L-96.45,107.59 L-96.35,108.37 L-96.07,109.09 L-95.63,109.72 L-95.05,110.19 L-94.37,110.49 L-93.65,110.59 L-93.65,110.59 L-92.92,110.49 L-92.25,110.19 L-91.67,109.72 L-91.22,109.09 L-90.94,108.37 L-90.85,107.59 L-90.85,49.77 L-90.76,44.79 L-90.55,39.81 L-90.25,34.84 L-89.91,29.86 L-89.57,24.88 L-89.28,19.91 L-89.1,14.93 L-89.05,9.95 L-89.05,4.98 L-89.05,0Z M-110.33,0 L-110.33,4.98 L-110.33,9.95 L-110.28,14.93 L-110.09,19.91 L-109.8,24.88 L-109.47,29.86 L-109.13,34.84 L-108.83,39.81 L-108.61,44.79 L-108.53,49.77 L-108.53,107.59 L-108.43,108.37 L-108.15,109.09 L-107.71,109.72 L-107.13,110.19 L-106.45,110.49 L-105.73,110.59 L-105.73,110.59 L-105,110.49 L-104.33,110.19 L-103.75,109.72 L-103.3,109.09 L-103.02,108.37 L-102.93,107.59 L-102.93,49.77 L-102.85,44.79 L-102.63,39.81 L-102.33,34.84 L-101.99,29.86 L-101.65,24.88 L-101.37,19.91 L-101.18,14.93 L-101.13,9.95 L-101.13,4.98 L-101.13,0Z M-122.41,0 L-122.41,4.98 L-122.41,9.95 L-122.36,14.93 L-122.17,19.91 L-121.89,24.88 L-121.55,29.86 L-121.21,34.84 L-120.91,39.81 L-120.69,44.79 L-120.61,49.77 L-120.61,107.59 L-120.52,108.37 L-120.24,109.09 L-119.79,109.72 L-119.21,110.19 L-118.54,110.49 L-117.81,110.59 L-117.81,110.59 L-117.09,110.49 L-116.41,110.19 L-115.83,109.72 L-115.39,109.09 L-115.11,108.37 L-115.01,107.59 L-115.01,49.77 L-114.93,44.79 L-114.72,39.81 L-114.42,34.84 L-114.07,29.86 L-113.74,24.88 L-113.45,19.91 L-113.26,14.93 L-113.21,9.95 L-113.21,4.98 L-113.21,0Z M-134.5,0 L-134.5,4.98 L-134.5,9.95 L-134.45,14.93 L-134.26,19.91 L-133.97,24.88 L-133.63,29.86 L-133.29,34.84 L-132.99,39.81 L-132.78,44.79 L-132.7,49.77 L-132.7,107.59 L-132.6,108.37 L-132.32,109.09 L-131.88,109.72 L-131.3,110.19 L-130.62,110.49 L-129.9,110.59 L-129.9,110.59 L-129.17,110.49 L-128.5,110.19 L-127.92,109.72 L-127.47,109.09 L-127.19,108.37 L-127.1,107.59 L-127.1,49.77 L-127.01,44.79 L-126.8,39.81 L-126.5,34.84 L-126.16,29.86 L-125.82,24.88 L-125.53,19.91 L-125.35,14.93 L-125.3,9.95 L-125.3,4.98 L-125.3,0Z M-146.58,0 L-146.58,4.98 L-146.58,9.95 L-146.53,14.93 L-146.34,19.91 L-146.05,24.88 L-145.72,29.86 L-145.38,34.84 L-145.08,39.81 L-144.86,44.79 L-144.78,49.77 L-144.78,107.59 L-144.68,108.37 L-144.4,109.09 L-143.96,109.72 L-143.38,110.19 L-142.7,110.49 L-141.98,110.59 L-141.98,110.59 L-141.25,110.49 L-140.58,110.19 L-140,109.72 L-139.55,109.09 L-139.27,108.37 L-139.18,107.59 L-139.18,49.77 L-139.1,44.79 L-138.88,39.81 L-138.58,34.84 L-138.24,29.86 L-137.9,24.88 L-137.62,19.91 L-137.43,14.93 L-137.38,9.95 L-137.38,4.98 L-137.38,0Z M-158.66,0 L-158.66,4.98 L-158.66,9.95 L-158.61,14.93 L-158.42,19.91 L-158.14,24.88 L-157.8,29.86 L-157.46,34.84 L-157.16,39.81 L-156.94,44.79 L-156.86,49.77 L-156.86,107.59 L-156.77,108.37 L-156.49,109.09 L-156.04,109.72 L-155.46,110.19 L-154.79,110.49 L-154.06,110.59 L-154.06,110.59 L-153.34,110.49 L-152.66,110.19 L-152.08,109.72 L-151.64,109.09 L-151.36,108.37 L-151.26,107.59 L-151.26,49.77 L-151.18,44.79 L-150.97,39.81 L-150.67,34.84 L-150.32,29.86 L-149.99,24.88 L-149.7,19.91 L-149.51,14.93 L-149.46,9.95 L-149.46,4.98 L-149.46,0Z M-170.75,0 L-170.75,4.98 L-170.75,9.95 L-170.7,14.93 L-170.51,19.91 L-170.22,24.88 L-169.88,29.86 L-169.54,34.84 L-169.24,39.81 L-169.03,44.79 L-168.95,49.77 L-168.95,107.59 L-168.85,108.37 L-168.57,109.09 L-168.13,109.72 L-167.55,110.19 L-166.87,110.49 L-166.15,110.59 L-166.15,110.59 L-165.42,110.49 L-164.75,110.19 L-164.17,109.72 L-163.72,109.09 L-163.44,108.37 L-163.35,107.59 L-163.35,49.77 L-163.26,44.79 L-163.05,39.81 L-162.75,34.84 L-162.41,29.86 L-162.07,24.88 L-161.78,19.91 L-161.6,14.93 L-161.55,9.95 L-161.55,4.98 L-161.55,0Z M-182.83,0 L-182.83,4.98 L-182.83,9.95 L-182.78,14.93 L-182.59,19.91 L-182.3,24.88 L-181.97,29.86 L-181.63,34.84 L-181.33,39.81 L-181.11,44.79 L-181.03,49.77 L-181.03,107.59 L-180.93,108.37 L-180.65,109.09 L-180.21,109.72 L-179.63,110.19 L-178.95,110.49 L-178.23,110.59 L-178.23,110.59 L-177.5,110.49 L-176.83,110.19 L-176.25,109.72 L-175.8,109.09 L-175.52,108.37 L-175.43,107.59 L-175.43,49.77 L-175.35,44.79 L-175.13,39.81 L-174.83,34.84 L-174.49,29.86 L-174.15,24.88 L-173.87,19.91 L-173.68,14.93 L-173.63,9.95 L-173.63,4.98 L-173.63,0Z M-194.91,0 L-194.91,4.98 L-194.91,9.95 L-194.86,14.93 L-194.67,19.91 L-194.39,24.88 L-194.05,29.86 L-193.71,34.84 L-193.41,39.81 L-193.19,44.79 L-193.11,49.77 L-193.11,107.59 L-193.02,108.37 L-192.74,109.09 L-192.29,109.72 L-191.71,110.19 L-191.04,110.49 L-190.31,110.59 L-190.31,110.59 L-189.59,110.49 L-188.91,110.19 L-188.33,109.72 L-187.89,109.09 L-187.61,108.37 L-187.51,107.59 L-187.51,49.77 L-187.43,44.79 L-187.22,39.81 L-186.92,34.84 L-186.57,29.86 L-186.24,24.88 L-185.95,19.91 L-185.76,14.93 L-185.71,9.95 L-185.71,4.98 L-185.71,0Z M-207,0 L-207,4.98 L-207,9.95 L-206.95,14.93 L-206.76,19.91 L-206.47,24.88 L-206.13,29.86 L-205.79,34.84 L-205.49,39.81 L-205.28,44.79 L-205.2,49.77 L-205.2,107.59 L-205.1,108.37 L-204.82,109.09 L-204.38,109.72 L-203.8,110.19 L-203.12,110.49 L-202.4,110.59 L-202.4,110.59 L-201.67,110.49 L-201,110.19 L-200.42,109.72 L-199.97,109.09 L-199.69,108.37 L-199.6,107.59 L-199.6,49.77 L-199.51,44.79 L-199.3,39.81 L-199,34.84 L-198.66,29.86 L-198.32,24.88 L-198.03,19.91 L-197.85,14.93 L-197.8,9.95 L-197.8,4.98 L-197.8,0Z M-219.08,0 L-219.08,4.98 L-219.08,9.95 L-219.03,14.93 L-218.84,19.91 L-218.55,24.88 L-218.22,29.86 L-217.88,34.84 L-217.58,39.81 L-217.36,44.79 L-217.28,49.77 L-217.28,107.59 L-217.18,108.37 L-216.9,109.09 L-216.46,109.72 L-215.88,110.19 L-215.2,110.49 L-214.48,110.59 L-214.48,110.59 L-213.75,110.49 L-213.08,110.19 L-212.5,109.72 L-212.05,109.09 L-211.77,108.37 L-211.68,107.59 L-211.68,49.77 L-211.6,44.79 L-211.38,39.81 L-211.08,34.84 L-210.74,29.86 L-210.4,24.88 L-210.12,19.91 L-209.93,14.93 L-209.88,9.95 L-209.88,4.98 L-209.88,0Z M-231.16,0 L-231.16,4.98 L-231.16,9.95 L-231.11,14.93 L-230.92,19.91 L-230.64,24.88 L-230.3,29.86 L-229.96,34.84 L-229.66,39.81 L-229.44,44.79 L-229.36,49.77 L-229.36,107.59 L-229.27,108.37 L-228.99,109.09 L-228.54,109.72 L-227.96,110.19 L-227.29,110.49 L-226.56,110.59 L-226.56,110.59 L-225.84,110.49 L-225.16,110.19 L-224.58,109.72 L-224.14,109.09 L-223.86,108.37 L-223.76,107.59 L-223.76,49.77 L-223.68,44.79 L-223.47,39.81 L-223.17,34.84 L-222.82,29.86 L-222.49,24.88 L-222.2,19.91 L-222.01,14.93 L-221.96,9.95 L-221.96,4.98 L-221.96,0Z M-243.25,0 L-243.25,4.98 L-243.25,9.95 L-243.2,14.93 L-243.01,19.91 L-242.72,24.88 L-242.38,29.86 L-242.04,34.84 L-241.74,39.81 L-241.53,44.79 L-241.45,49.77 L-241.45,107.59 L-241.35,108.37 L-241.07,109.09 L-240.63,109.72 L-240.05,110.19 L-239.37,110.49 L-238.65,110.59 L-238.65,110.59 L-237.92,110.49 L-237.25,110.19 L-236.67,109.72 L-236.22,109.09 L-235.94,108.37 L-235.85,107.59 L-235.85,49.77 L-235.76,44.79 L-235.55,39.81 L-235.25,34.84 L-234.91,29.86 L-234.57,24.88 L-234.28,19.91 L-234.1,14.93 L-234.05,9.95 L-234.05,4.98 L-234.05,0Z"/><path fill="url(#dk)" d="M-10.46,108.59 L-7.66,108.59 L-7.66,30.3 L-10.46,30.3Z M-22.55,108.59 L-19.75,108.59 L-19.75,30.3 L-22.55,30.3Z M-34.63,108.59 L-31.83,108.59 L-31.83,30.3 L-34.63,30.3Z M-46.71,108.59 L-43.91,108.59 L-43.91,30.3 L-46.71,30.3Z M-58.8,108.59 L-56,108.59 L-56,30.3 L-58.8,30.3Z M-70.88,108.59 L-68.08,108.59 L-68.08,30.3 L-70.88,30.3Z M-82.96,108.59 L-80.16,108.59 L-80.16,30.3 L-82.96,30.3Z M-95.05,108.59 L-92.25,108.59 L-92.25,30.3 L-95.05,30.3Z M-107.13,108.59 L-104.33,108.59 L-104.33,30.3 L-107.13,30.3Z M-119.21,108.59 L-116.41,108.59 L-116.41,30.3 L-119.21,30.3Z M-131.3,108.59 L-128.5,108.59 L-128.5,30.3 L-131.3,30.3Z M-143.38,108.59 L-140.58,108.59 L-140.58,30.3 L-143.38,30.3Z M-155.46,108.59 L-152.66,108.59 L-152.66,30.3 L-155.46,30.3Z M-167.55,108.59 L-164.75,108.59 L-164.75,30.3 L-167.55,30.3Z M-179.63,108.59 L-176.83,108.59 L-176.83,30.3 L-179.63,30.3Z M-191.71,108.59 L-188.91,108.59 L-188.91,30.3 L-191.71,30.3Z M-203.8,108.59 L-201,108.59 L-201,30.3 L-203.8,30.3Z M-215.88,108.59 L-213.08,108.59 L-213.08,30.3 L-215.88,30.3Z M-227.96,108.59 L-225.16,108.59 L-225.16,30.3 L-227.96,30.3Z M-240.05,108.59 L-237.25,108.59 L-237.25,30.3 L-240.05,30.3Z"/><g fill="#000030" fill-opacity="0.3"><ellipse cx="-9.06" cy="107.09" rx="2.66" ry="4.5"/><ellipse cx="-21.15" cy="107.09" rx="2.66" ry="4.5"/><ellipse cx="-33.23" cy="107.09" rx="2.66" ry="4.5"/><ellipse cx="-45.31" cy="107.09" rx="2.66" ry="4.5"/><ellipse cx="-57.4" cy="107.09" rx="2.66" ry="4.5"/><ellipse cx="-69.48" cy="107.09" rx="2.66" ry="4.5"/><ellipse cx="-81.56" cy="107.09" rx="2.66" ry="4.5"/><ellipse cx="-93.65" cy="107.09" rx="2.66" ry="4.5"/><ellipse cx="-105.73" cy="107.09" rx="2.66" ry="4.5"/><ellipse cx="-117.81" cy="107.09" rx="2.66" ry="4.5"/><ellipse cx="-129.9" cy="107.09" rx="2.66" ry="4.5"/><ellipse cx="-141.98" cy="107.09" rx="2.66" ry="4.5"/><ellipse cx="-154.06" cy="107.09" rx="2.66" ry="4.5"/><ellipse cx="-166.15" cy="107.09" rx="2.66" ry="4.5"/><ellipse cx="-178.23" cy="107.09" rx="2.66" ry="4.5"/><ellipse cx="-190.31" cy="107.09" rx="2.66" ry="4.5"/><ellipse cx="-202.4" cy="107.09" rx="2.66" ry="4.5"/><ellipse cx="-214.48" cy="107.09" rx="2.66" ry="4.5"/><ellipse cx="-226.56" cy="107.09" rx="2.66" ry="4.5"/><ellipse cx="-238.65" cy="107.09" rx="2.66" ry="4.5"/></g></g>
<polygon points="384,482.05 822,387.45 532,243.15 94,337.75" fill="#8fff70"/>
<g transform="matrix(1,0.49759,0,1,714,410.78)" clip-path="url(#cl)"><rect x="-245.1" y="-136.27" width="245.1" height="136.27" fill="url(#jet)" fill-opacity="0.3"/><path fill="url(#jet)" d="M-5.21,-0 L-5.21,-10.4 L-5.21,-20.8 L-5.21,-31.21 L-5.21,-41.61 L-5.21,-52.01 L-5.13,-62.41 L-4.8,-72.81 L-4.38,-83.22 L-4.02,-93.62 L-3.86,-104.02 L-3.86,-141.47 L-3.78,-142.25 L-3.56,-142.97 L-3.2,-143.6 L-2.74,-144.07 L-2.19,-144.37 L-1.61,-144.47 L-1.61,-144.47 L-1.03,-144.37 L-0.49,-144.07 L-0.02,-143.6 L0.34,-142.97 L0.56,-142.25 L0.64,-141.47 L0.64,-104.02 L0.79,-93.62 L1.16,-83.22 L1.58,-72.81 L1.9,-62.41 L1.99,-52.01 L1.99,-41.61 L1.99,-31.21 L1.99,-20.8 L1.99,-10.4 L1.99,-0Z M-11.66,-0 L-11.66,-10.17 L-11.66,-20.34 L-11.66,-30.52 L-11.66,-40.69 L-11.66,-50.86 L-11.57,-61.03 L-11.25,-71.2 L-10.83,-81.37 L-10.46,-91.55 L-10.31,-101.72 L-10.31,-138.27 L-10.23,-139.05 L-10,-139.77 L-9.65,-140.4 L-9.18,-140.87 L-8.64,-141.17 L-8.06,-141.27 L-8.06,-141.27 L-7.47,-141.17 L-6.93,-140.87 L-6.46,-140.4 L-6.11,-139.77 L-5.88,-139.05 L-5.81,-138.27 L-5.81,-101.72 L-5.65,-91.55 L-5.28,-81.37 L-4.86,-71.2 L-4.54,-61.03 L-4.46,-50.86 L-4.46,-40.69 L-4.46,-30.52 L-4.46,-20.34 L-4.46,-10.17 L-4.46,-0Z M-18.1,-0 L-18.1,-10.17 L-18.1,-20.34 L-18.1,-30.52 L-18.1,-40.69 L-18.1,-50.86 L-18.01,-61.03 L-17.69,-71.2 L-17.27,-81.37 L-16.91,-91.55 L-16.75,-101.72 L-16.75,-138.27 L-16.67,-139.05 L-16.45,-139.77 L-16.09,-140.4 L-15.62,-140.87 L-15.08,-141.17 L-14.5,-141.27 L-14.5,-141.27 L-13.92,-141.17 L-13.38,-140.87 L-12.91,-140.4 L-12.55,-139.77 L-12.33,-139.05 L-12.25,-138.27 L-12.25,-101.72 L-12.09,-91.55 L-11.73,-81.37 L-11.31,-71.2 L-10.99,-61.03 L-10.9,-50.86 L-10.9,-40.69 L-10.9,-30.52 L-10.9,-20.34 L-10.9,-10.17 L-10.9,-0Z M-24.54,-0 L-24.54,-10.4 L-24.54,-20.8 L-24.54,-31.21 L-24.54,-41.61 L-24.54,-52.01 L-24.46,-62.41 L-24.14,-72.81 L-23.72,-83.22 L-23.35,-93.62 L-23.19,-104.02 L-23.19,-141.47 L-23.12,-142.25 L-22.89,-142.97 L-22.54,-143.6 L-22.07,-144.07 L-21.53,-144.37 L-20.94,-144.47 L-20.94,-144.47 L-20.36,-144.37 L-19.82,-144.07 L-19.35,-143.6 L-19,-142.97 L-18.77,-142.25 L-18.69,-141.47 L-18.69,-104.02 L-18.54,-93.62 L-18.17,-83.22 L-17.75,-72.81 L-17.43,-62.41 L-17.34,-52.01 L-17.34,-41.61 L-17.34,-31.21 L-17.34,-20.8 L-17.34,-10.4 L-17.34,-0Z M-30.99,-0 L-30.99,-10.17 L-30.99,-20.34 L-30.99,-30.52 L-30.99,-40.69 L-30.99,-50.86 L-30.9,-61.03 L-30.58,-71.2 L-30.16,-81.37 L-29.79,-91.55 L-29.64,-101.72 L-29.64,-138.27 L-29.56,-139.05 L-29.34,-139.77 L-28.98,-140.4 L-28.51,-140.87 L-27.97,-141.17 L-27.39,-141.27 L-27.39,-141.27 L-26.81,-141.17 L-26.26,-140.87 L-25.8,-140.4 L-25.44,-139.77 L-25.22,-139.05 L-25.14,-138.27 L-25.14,-101.72 L-24.98,-91.55 L-24.62,-81.37 L-24.2,-71.2 L-23.87,-61.03 L-23.79,-50.86 L-23.79,-40.69 L-23.79,-30.52 L-23.79,-20.34 L-23.79,-10.17 L-23.79,-0Z M-37.43,-0 L-37.43,-10.17 L-37.43,-20.34 L-37.43,-30.52 L-37.43,-40.69 L-37.43,-50.86 L-37.35,-61.03 L-37.03,-71.2 L-36.6,-81.37 L-36.24,-91.55 L-36.08,-101.72 L-36.08,-138.27 L-36.01,-139.05 L-35.78,-139.77 L-35.42,-140.4 L-34.96,-140.87 L-34.42,-141.17 L-33.83,-141.27 L-33.83,-141.27 L-33.25,-141.17 L-32.71,-140.87 L-32.24,-140.4 L-31.88,-139.77 L-31.66,-139.05 L-31.58,-138.27 L-31.58,-101.72 L-31.43,-91.55 L-31.06,-81.37 L-30.64,-71.2 L-30.32,-61.03 L-30.23,-50.86 L-30.23,-40.69 L-30.23,-30.52 L-30.23,-20.34 L-30.23,-10.17 L-30.23,-0Z M-43.88,-0 L-43.88,-10.4 L-43.88,-20.8 L-43.88,-31.21 L-43.88,-41.61 L-43.88,-52.01 L-43.79,-62.41 L-43.47,-72.81 L-43.05,-83.22 L-42.68,-93.62 L-42.53,-104.02 L-42.53,-141.47 L-42.45,-142.25 L-42.23,-142.97 L-41.87,-143.6 L-41.4,-144.07 L-40.86,-144.37 L-40.28,-144.47 L-40.28,-144.47 L-39.7,-144.37 L-39.15,-144.07 L-38.69,-143.6 L-38.33,-142.97 L-38.1,-142.25 L-38.03,-141.47 L-38.03,-104.02 L-37.87,-93.62 L-37.51,-83.22 L-37.09,-72.81 L-36.76,-62.41 L-36.68,-52.01 L-36.68,-41.61 L-36.68,-31.21 L-36.68,-20.8 L-36.68,-10.4 L-36.68,-0Z M-50.32,-0 L-50.32,-10.17 L-50.32,-20.34 L-50.32,-30.52 L-50.32,-40.69 L-50.32,-50.86 L-50.24,-61.03 L-49.91,-71.2 L-49.49,-81.37 L-49.13,-91.55 L-48.97,-101.72 L-48.97,-138.27 L-48.9,-139.05 L-48.67,-139.77 L-48.31,-140.4 L-47.85,-140.87 L-47.3,-141.17 L-46.72,-141.27 L-46.72,-141.27 L-46.14,-141.17 L-45.6,-140.87 L-45.13,-140.4 L-44.77,-139.77 L-44.55,-139.05 L-44.47,-138.27 L-44.47,-101.72 L-44.32,-91.55 L-43.95,-81.37 L-43.53,-71.2 L-43.21,-61.03 L-43.12,-50.86 L-43.12,-40.69 L-43.12,-30.52 L-43.12,-20.34 L-43.12,-10.17 L-43.12,-0Z M-56.77,-0 L-56.77,-10.17 L-56.77,-20.34 L-56.77,-30.52 L-56.77,-40.69 L-56.77,-50.86 L-56.68,-61.03 L-56.36,-71.2 L-55.94,-81.37 L-55.57,-91.55 L-55.42,-101.72 L-55.42,-138.27 L-55.34,-139.05 L-55.12,-139.77 L-54.76,-140.4 L-54.29,-140.87 L-53.75,-141.17 L-53.17,-141.27 L-53.17,-141.27 L-52.58,-141.17 L-52.04,-140.87 L-51.58,-140.4 L-51.22,-139.77 L-50.99,-139.05 L-50.92,-138.27 L-50.92,-101.72 L-50.76,-91.55 L-50.4,-81.37 L-49.97,-71.2 L-49.65,-61.03 L-49.57,-50.86 L-49.57,-40.69 L-49.57,-30.52 L-49.57,-20.34 L-49.57,-10.17 L-49.57,-0Z M-63.21,-0 L-63.21,-10.4 L-63.21,-20.8 L-63.21,-31.21 L-63.21,-41.61 L-63.21,-52.01 L-63.13,-62.41 L-62.8,-72.81 L-62.38,-83.22 L-62.02,-93.62 L-61.86,-104.02 L-61.86,-141.47 L-61.78,-142.25 L-61.56,-142.97 L-61.2,-143.6 L-60.74,-144.07 L-60.19,-144.37 L-59.61,-144.47 L-59.61,-144.47 L-59.03,-144.37 L-58.49,-144.07 L-58.02,-143.6 L-57.66,-142.97 L-57.44,-142.25 L-57.36,-141.47 L-57.36,-104.02 L-57.21,-93.62 L-56.84,-83.22 L-56.42,-72.81 L-56.1,-62.41 L-56.01,-52.01 L-56.01,-41.61 L-56.01,-31.21 L-56.01,-20.8 L-56.01,-10.4 L-56.01,-0Z M-69.66,-0 L-69.66,-10.17 L-69.66,-20.34 L-69.66,-30.52 L-69.66,-40.69 L-69.66,-50.86 L-69.57,-61.03 L-69.25,-71.2 L-68.83,-81.37 L-68.46,-91.55 L-68.31,-101.72 L-68.31,-138.27 L-68.23,-139.05 L-68,-139.77 L-67.65,-140.4 L-67.18,-140.87 L-66.64,-141.17 L-66.06,-141.27 L-66.06,-141.27 L-65.47,-141.17 L-64.93,-140.87 L-64.46,-140.4 L-64.11,-139.77 L-63.88,-139.05 L-63.81,-138.27 L-63.81,-101.72 L-63.65,-91.55 L-63.28,-81.37 L-62.86,-71.2 L-62.54,-61.03 L-62.46,-50.86 L-62.46,-40.69 L-62.46,-30.52 L-62.46,-20.34 L-62.46,-10.17 L-62.46,-0Z M-76.1,-0 L-76.1,-10.17 L-76.1,-20.34 L-76.1,-30.52 L-76.1,-40.69 L-76.1,-50.86 L-76.01,-61.03 L-75.69,-71.2 L-75.27,-81.37 L-74.91,-91.55 L-74.75,-101.72 L-74.75,-138.27 L-74.67,-139.05 L-74.45,-139.77 L-74.09,-140.4 L-73.62,-140.87 L-73.08,-141.17 L-72.5,-141.27 L-72.5,-141.27 L-71.92,-141.17 L-71.38,-140.87 L-70.91,-140.4 L-70.55,-139.77 L-70.33,-139.05 L-70.25,-138.27 L-70.25,-101.72 L-70.09,-91.55 L-69.73,-81.37 L-69.31,-71.2 L-68.99,-61.03 L-68.9,-50.86 L-68.9,-40.69 L-68.9,-30.52 L-68.9,-20.34 L-68.9,-10.17 L-68.9,-0Z M-82.54,-0 L-82.54,-10.4 L-82.54,-20.8 L-82.54,-31.21 L-82.54,-41.61 L-82.54,-52.01 L-82.46,-62.41 L-82.14,-72.81 L-81.72,-83.22 L-81.35,-93.62 L-81.19,-104.02 L-81.19,-141.47 L-81.12,-142.25 L-80.89,-142.97 L-80.54,-143.6 L-80.07,-144.07 L-79.53,-144.37 L-78.94,-144.47 L-78.94,-144.47 L-78.36,-144.37 L-77.82,-144.07 L-77.35,-143.6 L-77,-142.97 L-76.77,-142.25 L-76.69,-141.47 L-76.69,-104.02 L-76.54,-93.62 L-76.17,-83.22 L-75.75,-72.81 L-75.43,-62.41 L-75.34,-52.01 L-75.34,-41.61 L-75.34,-31.21 L-75.34,-20.8 L-75.34,-10.4 L-75.34,-0Z M-88.99,-0 L-88.99,-10.17 L-88.99,-20.34 L-88.99,-30.52 L-88.99,-40.69 L-88.99,-50.86 L-88.9,-61.03 L-88.58,-71.2 L-88.16,-81.37 L-87.79,-91.55 L-87.64,-101.72 L-87.64,-138.27 L-87.56,-139.05 L-87.34,-139.77 L-86.98,-140.4 L-86.51,-140.87 L-85.97,-141.17 L-85.39,-141.27 L-85.39,-141.27 L-84.81,-141.17 L-84.26,-140.87 L-83.8,-140.4 L-83.44,-139.77 L-83.22,-139.05 L-83.14,-138.27 L-83.14,-101.72 L-82.98,-91.55 L-82.62,-81.37 L-82.2,-71.2 L-81.87,-61.03 L-81.79,-50.86 L-81.79,-40.69 L-81.79,-30.52 L-81.79,-20.34 L-81.79,-10.17 L-81.79,-0Z M-95.43,-0 L-95.43,-10.17 L-95.43,-20.34 L-95.43,-30.52 L-95.43,-40.69 L-95.43,-50.86 L-95.35,-61.03 L-95.03,-71.2 L-94.6,-81.37 L-94.24,-91.55 L-94.08,-101.72 L-94.08,-138.27 L-94.01,-139.05 L-93.78,-139.77 L-93.42,-140.4 L-92.96,-140.87 L-92.42,-141.17 L-91.83,-141.27 L-91.83,-141.27 L-91.25,-141.17 L-90.71,-140.87 L-90.24,-140.4 L-89.88,-139.77 L-89.66,-139.05 L-89.58,-138.27 L-89.58,-101.72 L-89.43,-91.55 L-89.06,-81.37 L-88.64,-71.2 L-88.32,-61.03 L-88.23,-50.86 L-88.23,-40.69 L-88.23,-30.52 L-88.23,-20.34 L-88.23,-10.17 L-88.23,-0Z M-101.88,-0 L-101.88,-10.4 L-101.88,-20.8 L-101.88,-31.21 L-101.88,-41.61 L-101.88,-52.01 L-101.79,-62.41 L-101.47,-72.81 L-101.05,-83.22 L-100.68,-93.62 L-100.53,-104.02 L-100.53,-141.47 L-100.45,-142.25 L-100.23,-142.97 L-99.87,-143.6 L-99.4,-144.07 L-98.86,-144.37 L-98.28,-144.47 L-98.28,-144.47 L-97.7,-144.37 L-97.15,-144.07 L-96.69,-143.6 L-96.33,-142.97 L-96.1,-142.25 L-96.03,-141.47 L-96.03,-104.02 L-95.87,-93.62 L-95.51,-83.22 L-95.09,-72.81 L-94.76,-62.41 L-94.68,-52.01 L-94.68,-41.61 L-94.68,-31.21 L-94.68,-20.8 L-94.68,-10.4 L-94.68,-0Z M-108.32,-0 L-108.32,-10.17 L-108.32,-20.34 L-108.32,-30.52 L-108.32,-40.69 L-108.32,-50.86 L-108.24,-61.03 L-107.91,-71.2 L-107.49,-81.37 L-107.13,-91.55 L-106.97,-101.72 L-106.97,-138.27 L-106.9,-139.05 L-106.67,-139.77 L-106.31,-140.4 L-105.85,-140.87 L-105.3,-141.17 L-104.72,-141.27 L-104.72,-141.27 L-104.14,-141.17 L-103.6,-140.87 L-103.13,-140.4 L-102.77,-139.77 L-102.55,-139.05 L-102.47,-138.27 L-102.47,-101.72 L-102.32,-91.55 L-101.95,-81.37 L-101.53,-71.2 L-101.21,-61.03 L-101.12,-50.86 L-101.12,-40.69 L-101.12,-30.52 L-101.12,-20.34 L-101.12,-10.17 L-101.12,-0Z M-114.77,-0 L-114.77,-10.17 L-114.77,-20.34 L-114.77,-30.52 L-114.77,-40.69 L-114.77,-50.86 L-114.68,-61.03 L-114.36,-71.2 L-113.94,-81.37 L-113.57,-91.55 L-113.42,-101.72 L-113.42,-138.27 L-113.34,-139.05 L-113.12,-139.77 L-112.76,-140.4 L-112.29,-140.87 L-111.75,-141.17 L-111.17,-141.27 L-111.17,-141.27 L-110.58,-141.17 L-110.04,-140.87 L-109.58,-140.4 L-109.22,-139.77 L-108.99,-139.05 L-108.92,-138.27 L-108.92,-101.72 L-108.76,-91.55 L-108.4,-81.37 L-107.97,-71.2 L-107.65,-61.03 L-107.57,-50.86 L-107.57,-40.69 L-107.57,-30.52 L-107.57,-20.34 L-107.57,-10.17 L-107.57,-0Z M-121.21,-0 L-121.21,-10.4 L-121.21,-20.8 L-121.21,-31.21 L-121.21,-41.61 L-121.21,-52.01 L-121.13,-62.41 L-120.8,-72.81 L-120.38,-83.22 L-120.02,-93.62 L-119.86,-104.02 L-119.86,-141.47 L-119.78,-142.25 L-119.56,-142.97 L-119.2,-143.6 L-118.74,-144.07 L-118.19,-144.37 L-117.61,-144.47 L-117.61,-144.47 L-117.03,-144.37 L-116.49,-144.07 L-116.02,-143.6 L-115.66,-142.97 L-115.44,-142.25 L-115.36,-141.47 L-115.36,-104.02 L-115.21,-93.62 L-114.84,-83.22 L-114.42,-72.81 L-114.1,-62.41 L-114.01,-52.01 L-114.01,-41.61 L-114.01,-31.21 L-114.01,-20.8 L-114.01,-10.4 L-114.01,-0Z M-127.66,-0 L-127.66,-10.17 L-127.66,-20.34 L-127.66,-30.52 L-127.66,-40.69 L-127.66,-50.86 L-127.57,-61.03 L-127.25,-71.2 L-126.83,-81.37 L-126.46,-91.55 L-126.31,-101.72 L-126.31,-138.27 L-126.23,-139.05 L-126,-139.77 L-125.65,-140.4 L-125.18,-140.87 L-124.64,-141.17 L-124.06,-141.27 L-124.06,-141.27 L-123.47,-141.17 L-122.93,-140.87 L-122.46,-140.4 L-122.11,-139.77 L-121.88,-139.05 L-121.81,-138.27 L-121.81,-101.72 L-121.65,-91.55 L-121.28,-81.37 L-120.86,-71.2 L-120.54,-61.03 L-120.46,-50.86 L-120.46,-40.69 L-120.46,-30.52 L-120.46,-20.34 L-120.46,-10.17 L-120.46,-0Z M-134.1,-0 L-134.1,-10.17 L-134.1,-20.34 L-134.1,-30.52 L-134.1,-40.69 L-134.1,-50.86 L-134.01,-61.03 L-133.69,-71.2 L-133.27,-81.37 L-132.91,-91.55 L-132.75,-101.72 L-132.75,-138.27 L-132.67,-139.05 L-132.45,-139.77 L-132.09,-140.4 L-131.62,-140.87 L-131.08,-141.17 L-130.5,-141.27 L-130.5,-141.27 L-129.92,-141.17 L-129.37,-140.87 L-128.91,-140.4 L-128.55,-139.77 L-128.33,-139.05 L-128.25,-138.27 L-128.25,-101.72 L-128.09,-91.55 L-127.73,-81.37 L-127.31,-71.2 L-126.99,-61.03 L-126.9,-50.86 L-126.9,-40.69 L-126.9,-30.52 L-126.9,-20.34 L-126.9,-10.17 L-126.9,-0Z M-140.54,-0 L-140.54,-10.4 L-140.54,-20.8 L-140.54,-31.21 L-140.54,-41.61 L-140.54,-52.01 L-140.46,-62.41 L-140.14,-72.81 L-139.72,-83.22 L-139.35,-93.62 L-139.19,-104.02 L-139.19,-141.47 L-139.12,-142.25 L-138.89,-142.97 L-138.54,-143.6 L-138.07,-144.07 L-137.53,-144.37 L-136.94,-144.47 L-136.94,-144.47 L-136.36,-144.37 L-135.82,-144.07 L-135.35,-143.6 L-135,-142.97 L-134.77,-142.25 L-134.69,-141.47 L-134.69,-104.02 L-134.54,-93.62 L-134.17,-83.22 L-133.75,-72.81 L-133.43,-62.41 L-133.34,-52.01 L-133.34,-41.61 L-133.34,-31.21 L-133.34,-20.8 L-133.34,-10.4 L-133.34,-0Z M-146.99,-0 L-146.99,-10.17 L-146.99,-20.34 L-146.99,-30.52 L-146.99,-40.69 L-146.99,-50.86 L-146.9,-61.03 L-146.58,-71.2 L-146.16,-81.37 L-145.79,-91.55 L-145.64,-101.72 L-145.64,-138.27 L-145.56,-139.05 L-145.34,-139.77 L-144.98,-140.4 L-144.51,-140.87 L-143.97,-141.17 L-143.39,-141.27 L-143.39,-141.27 L-142.81,-141.17 L-142.26,-140.87 L-141.8,-140.4 L-141.44,-139.77 L-141.22,-139.05 L-141.14,-138.27 L-141.14,-101.72 L-140.98,-91.55 L-140.62,-81.37 L-140.2,-71.2 L-139.87,-61.03 L-139.79,-50.86 L-139.79,-40.69 L-139.79,-30.52 L-139.79,-20.34 L-139.79,-10.17 L-139.79,-0Z M-153.43,-0 L-153.43,-10.17 L-153.43,-20.34 L-153.43,-30.52 L-153.43,-40.69 L-153.43,-50.86 L-153.35,-61.03 L-153.03,-71.2 L-152.6,-81.37 L-152.24,-91.55 L-152.08,-101.72 L-152.08,-138.27 L-152.01,-139.05 L-151.78,-139.77 L-151.42,-140.4 L-150.96,-140.87 L-150.42,-141.17 L-149.83,-141.27 L-149.83,-141.27 L-149.25,-141.17 L-148.71,-140.87 L-148.24,-140.4 L-147.88,-139.77 L-147.66,-139.05 L-147.58,-138.27 L-147.58,-101.72 L-147.43,-91.55 L-147.06,-81.37 L-146.64,-71.2 L-146.32,-61.03 L-146.23,-50.86 L-146.23,-40.69 L-146.23,-30.52 L-146.23,-20.34 L-146.23,-10.17 L-146.23,-0Z M-159.88,-0 L-159.88,-10.4 L-159.88,-20.8 L-159.88,-31.21 L-159.88,-41.61 L-159.88,-52.01 L-159.79,-62.41 L-159.47,-72.81 L-159.05,-83.22 L-158.68,-93.62 L-158.53,-104.02 L-158.53,-141.47 L-158.45,-142.25 L-158.23,-142.97 L-157.87,-143.6 L-157.4,-144.07 L-156.86,-144.37 L-156.28,-144.47 L-156.28,-144.47 L-155.7,-144.37 L-155.15,-144.07 L-154.69,-143.6 L-154.33,-142.97 L-154.1,-142.25 L-154.03,-141.47 L-154.03,-104.02 L-153.87,-93.62 L-153.51,-83.22 L-153.09,-72.81 L-152.76,-62.41 L-152.68,-52.01 L-152.68,-41.61 L-152.68,-31.21 L-152.68,-20.8 L-152.68,-10.4 L-152.68,-0Z M-166.32,-0 L-166.32,-10.17 L-166.32,-20.34 L-166.32,-30.52 L-166.32,-40.69 L-166.32,-50.86 L-166.24,-61.03 L-165.91,-71.2 L-165.49,-81.37 L-165.13,-91.55 L-164.97,-101.72 L-164.97,-138.27 L-164.9,-139.05 L-164.67,-139.77 L-164.31,-140.4 L-163.85,-140.87 L-163.3,-141.17 L-162.72,-141.27 L-162.72,-141.27 L-162.14,-141.17 L-161.6,-140.87 L-161.13,-140.4 L-160.77,-139.77 L-160.55,-139.05 L-160.47,-138.27 L-160.47,-101.72 L-160.32,-91.55 L-159.95,-81.37 L-159.53,-71.2 L-159.21,-61.03 L-159.12,-50.86 L-159.12,-40.69 L-159.12,-30.52 L-159.12,-20.34 L-159.12,-10.17 L-159.12,-0Z M-172.77,-0 L-172.77,-10.17 L-172.77,-20.34 L-172.77,-30.52 L-172.77,-40.69 L-172.77,-50.86 L-172.68,-61.03 L-172.36,-71.2 L-171.94,-81.37 L-171.57,-91.55 L-171.42,-101.72 L-171.42,-138.27 L-171.34,-139.05 L-171.12,-139.77 L-170.76,-140.4 L-170.29,-140.87 L-169.75,-141.17 L-169.17,-141.27 L-169.17,-141.27 L-168.58,-141.17 L-168.04,-140.87 L-167.58,-140.4 L-167.22,-139.77 L-166.99,-139.05 L-166.92,-138.27 L-166.92,-101.72 L-166.76,-91.55 L-166.4,-81.37 L-165.97,-71.2 L-165.65,-61.03 L-165.57,-50.86 L-165.57,-40.69 L-165.57,-30.52 L-165.57,-20.34 L-165.57,-10.17 L-165.57,-0Z M-179.21,-0 L-179.21,-10.4 L-179.21,-20.8 L-179.21,-31.21 L-179.21,-41.61 L-179.21,-52.01 L-179.13,-62.41 L-178.8,-72.81 L-178.38,-83.22 L-178.02,-93.62 L-177.86,-104.02 L-177.86,-141.47 L-177.78,-142.25 L-177.56,-142.97 L-177.2,-143.6 L-176.74,-144.07 L-176.19,-144.37 L-175.61,-144.47 L-175.61,-144.47 L-175.03,-144.37 L-174.49,-144.07 L-174.02,-143.6 L-173.66,-142.97 L-173.44,-142.25 L-173.36,-141.47 L-173.36,-104.02 L-173.21,-93.62 L-172.84,-83.22 L-172.42,-72.81 L-172.1,-62.41 L-172.01,-52.01 L-172.01,-41.61 L-172.01,-31.21 L-172.01,-20.8 L-172.01,-10.4 L-172.01,-0Z M-185.66,-0 L-185.66,-10.17 L-185.66,-20.34 L-185.66,-30.52 L-185.66,-40.69 L-185.66,-50.86 L-185.57,-61.03 L-185.25,-71.2 L-184.83,-81.37 L-184.46,-91.55 L-184.31,-101.72 L-184.31,-138.27 L-184.23,-139.05 L-184,-139.77 L-183.65,-140.4 L-183.18,-140.87 L-182.64,-141.17 L-182.06,-141.27 L-182.06,-141.27 L-181.47,-141.17 L-180.93,-140.87 L-180.46,-140.4 L-180.11,-139.77 L-179.88,-139.05 L-179.81,-138.27 L-179.81,-101.72 L-179.65,-91.55 L-179.28,-81.37 L-178.86,-71.2 L-178.54,-61.03 L-178.46,-50.86 L-178.46,-40.69 L-178.46,-30.52 L-178.46,-20.34 L-178.46,-10.17 L-178.46,-0Z M-192.1,-0 L-192.1,-10.17 L-192.1,-20.34 L-192.1,-30.52 L-192.1,-40.69 L-192.1,-50.86 L-192.01,-61.03 L-191.69,-71.2 L-191.27,-81.37 L-190.91,-91.55 L-190.75,-101.72 L-190.75,-138.27 L-190.67,-139.05 L-190.45,-139.77 L-190.09,-140.4 L-189.62,-140.87 L-189.08,-141.17 L-188.5,-141.27 L-188.5,-141.27 L-187.92,-141.17 L-187.38,-140.87 L-186.91,-140.4 L-186.55,-139.77 L-186.33,-139.05 L-186.25,-138.27 L-186.25,-101.72 L-186.09,-91.55 L-185.73,-81.37 L-185.31,-71.2 L-184.99,-61.03 L-184.9,-50.86 L-184.9,-40.69 L-184.9,-30.52 L-184.9,-20.34 L-184.9,-10.17 L-184.9,-0Z M-198.54,-0 L-198.54,-10.4 L-198.54,-20.8 L-198.54,-31.21 L-198.54,-41.61 L-198.54,-52.01 L-198.46,-62.41 L-198.14,-72.81 L-197.72,-83.22 L-197.35,-93.62 L-197.19,-104.02 L-197.19,-141.47 L-197.12,-142.25 L-196.89,-142.97 L-196.54,-143.6 L-196.07,-144.07 L-195.53,-144.37 L-194.94,-144.47 L-194.94,-144.47 L-194.36,-144.37 L-193.82,-144.07 L-193.35,-143.6 L-193,-142.97 L-192.77,-142.25 L-192.69,-141.47 L-192.69,-104.02 L-192.54,-93.62 L-192.17,-83.22 L-191.75,-72.81 L-191.43,-62.41 L-191.34,-52.01 L-191.34,-41.61 L-191.34,-31.21 L-191.34,-20.8 L-191.34,-10.4 L-191.34,-0Z M-204.99,-0 L-204.99,-10.17 L-204.99,-20.34 L-204.99,-30.52 L-204.99,-40.69 L-204.99,-50.86 L-204.9,-61.03 L-204.58,-71.2 L-204.16,-81.37 L-203.79,-91.55 L-203.64,-101.72 L-203.64,-138.27 L-203.56,-139.05 L-203.34,-139.77 L-202.98,-140.4 L-202.51,-140.87 L-201.97,-141.17 L-201.39,-141.27 L-201.39,-141.27 L-200.81,-141.17 L-200.26,-140.87 L-199.8,-140.4 L-199.44,-139.77 L-199.22,-139.05 L-199.14,-138.27 L-199.14,-101.72 L-198.98,-91.55 L-198.62,-81.37 L-198.2,-71.2 L-197.87,-61.03 L-197.79,-50.86 L-197.79,-40.69 L-197.79,-30.52 L-197.79,-20.34 L-197.79,-10.17 L-197.79,-0Z M-211.43,-0 L-211.43,-10.17 L-211.43,-20.34 L-211.43,-30.52 L-211.43,-40.69 L-211.43,-50.86 L-211.35,-61.03 L-211.03,-71.2 L-210.6,-81.37 L-210.24,-91.55 L-210.08,-101.72 L-210.08,-138.27 L-210.01,-139.05 L-209.78,-139.77 L-209.42,-140.4 L-208.96,-140.87 L-208.42,-141.17 L-207.83,-141.27 L-207.83,-141.27 L-207.25,-141.17 L-206.71,-140.87 L-206.24,-140.4 L-205.88,-139.77 L-205.66,-139.05 L-205.58,-138.27 L-205.58,-101.72 L-205.43,-91.55 L-205.06,-81.37 L-204.64,-71.2 L-204.32,-61.03 L-204.23,-50.86 L-204.23,-40.69 L-204.23,-30.52 L-204.23,-20.34 L-204.23,-10.17 L-204.23,-0Z M-217.88,-0 L-217.88,-10.4 L-217.88,-20.8 L-217.88,-31.21 L-217.88,-41.61 L-217.88,-52.01 L-217.79,-62.41 L-217.47,-72.81 L-217.05,-83.22 L-216.68,-93.62 L-216.53,-104.02 L-216.53,-141.47 L-216.45,-142.25 L-216.23,-142.97 L-215.87,-143.6 L-215.4,-144.07 L-214.86,-144.37 L-214.28,-144.47 L-214.28,-144.47 L-213.7,-144.37 L-213.15,-144.07 L-212.69,-143.6 L-212.33,-142.97 L-212.1,-142.25 L-212.03,-141.47 L-212.03,-104.02 L-211.87,-93.62 L-211.51,-83.22 L-211.09,-72.81 L-210.76,-62.41 L-210.68,-52.01 L-210.68,-41.61 L-210.68,-31.21 L-210.68,-20.8 L-210.68,-10.4 L-210.68,-0Z M-224.32,-0 L-224.32,-10.17 L-224.32,-20.34 L-224.32,-30.52 L-224.32,-40.69 L-224.32,-50.86 L-224.24,-61.03 L-223.91,-71.2 L-223.49,-81.37 L-223.13,-91.55 L-222.97,-101.72 L-222.97,-138.27 L-222.9,-139.05 L-222.67,-139.77 L-222.31,-140.4 L-221.85,-140.87 L-221.3,-141.17 L-220.72,-141.27 L-220.72,-141.27 L-220.14,-141.17 L-219.6,-140.87 L-219.13,-140.4 L-218.77,-139.77 L-218.55,-139.05 L-218.47,-138.27 L-218.47,-101.72 L-218.32,-91.55 L-217.95,-81.37 L-217.53,-71.2 L-217.21,-61.03 L-217.12,-50.86 L-217.12,-40.69 L-217.12,-30.52 L-217.12,-20.34 L-217.12,-10.17 L-217.12,-0Z M-230.77,-0 L-230.77,-10.17 L-230.77,-20.34 L-230.77,-30.52 L-230.77,-40.69 L-230.77,-50.86 L-230.68,-61.03 L-230.36,-71.2 L-229.94,-81.37 L-229.57,-91.55 L-229.42,-101.72 L-229.42,-138.27 L-229.34,-139.05 L-229.12,-139.77 L-228.76,-140.4 L-228.29,-140.87 L-227.75,-141.17 L-227.17,-141.27 L-227.17,-141.27 L-226.58,-141.17 L-226.04,-140.87 L-225.58,-140.4 L-225.22,-139.77 L-224.99,-139.05 L-224.92,-138.27 L-224.92,-101.72 L-224.76,-91.55 L-224.4,-81.37 L-223.97,-71.2 L-223.65,-61.03 L-223.57,-50.86 L-223.57,-40.69 L-223.57,-30.52 L-223.57,-20.34 L-223.57,-10.17 L-223.57,-0Z M-237.21,-0 L-237.21,-10.4 L-237.21,-20.8 L-237.21,-31.21 L-237.21,-41.61 L-237.21,-52.01 L-237.13,-62.41 L-236.8,-72.81 L-236.38,-83.22 L-236.02,-93.62 L-235.86,-104.02 L-235.86,-141.47 L-235.78,-142.25 L-235.56,-142.97 L-235.2,-143.6 L-234.74,-144.07 L-234.19,-144.37 L-233.61,-144.47 L-233.61,-144.47 L-233.03,-144.37 L-232.49,-144.07 L-232.02,-143.6 L-231.66,-142.97 L-231.44,-142.25 L-231.36,-141.47 L-231.36,-104.02 L-231.21,-93.62 L-230.84,-83.22 L-230.42,-72.81 L-230.1,-62.41 L-230.01,-52.01 L-230.01,-41.61 L-230.01,-31.21 L-230.01,-20.8 L-230.01,-10.4 L-230.01,-0Z M-243.66,-0 L-243.66,-10.17 L-243.66,-20.34 L-243.66,-30.52 L-243.66,-40.69 L-243.66,-50.86 L-243.57,-61.03 L-243.25,-71.2 L-242.83,-81.37 L-242.46,-91.55 L-242.31,-101.72 L-242.31,-138.27 L-242.23,-139.05 L-242,-139.77 L-241.65,-140.4 L-241.18,-140.87 L-240.64,-141.17 L-240.06,-141.27 L-240.06,-141.27 L-239.47,-141.17 L-238.93,-140.87 L-238.46,-140.4 L-238.11,-139.77 L-237.88,-139.05 L-237.81,-138.27 L-237.81,-101.72 L-237.65,-91.55 L-237.28,-81.37 L-236.86,-71.2 L-236.54,-61.03 L-236.46,-50.86 L-236.46,-40.69 L-236.46,-30.52 L-236.46,-20.34 L-236.46,-10.17 L-236.46,-0Z"/><path fill="url(#dk)" d="M-2.71,-142.47 L-0.51,-142.47 L-0.51,-30.3 L-2.71,-30.3Z M-9.16,-139.27 L-6.96,-139.27 L-6.96,-30.3 L-9.16,-30.3Z M-15.6,-139.27 L-13.4,-139.27 L-13.4,-30.3 L-15.6,-30.3Z M-22.04,-142.47 L-19.84,-142.47 L-19.84,-30.3 L-22.04,-30.3Z M-28.49,-139.27 L-26.29,-139.27 L-26.29,-30.3 L-28.49,-30.3Z M-34.93,-139.27 L-32.73,-139.27 L-32.73,-30.3 L-34.93,-30.3Z M-41.38,-142.47 L-39.18,-142.47 L-39.18,-30.3 L-41.38,-30.3Z M-47.82,-139.27 L-45.62,-139.27 L-45.62,-30.3 L-47.82,-30.3Z M-54.27,-139.27 L-52.07,-139.27 L-52.07,-30.3 L-54.27,-30.3Z M-60.71,-142.47 L-58.51,-142.47 L-58.51,-30.3 L-60.71,-30.3Z M-67.16,-139.27 L-64.96,-139.27 L-64.96,-30.3 L-67.16,-30.3Z M-73.6,-139.27 L-71.4,-139.27 L-71.4,-30.3 L-73.6,-30.3Z M-80.04,-142.47 L-77.84,-142.47 L-77.84,-30.3 L-80.04,-30.3Z M-86.49,-139.27 L-84.29,-139.27 L-84.29,-30.3 L-86.49,-30.3Z M-92.93,-139.27 L-90.73,-139.27 L-90.73,-30.3 L-92.93,-30.3Z M-99.38,-142.47 L-97.18,-142.47 L-97.18,-30.3 L-99.38,-30.3Z M-105.82,-139.27 L-103.62,-139.27 L-103.62,-30.3 L-105.82,-30.3Z M-112.27,-139.27 L-110.07,-139.27 L-110.07,-30.3 L-112.27,-30.3Z M-118.71,-142.47 L-116.51,-142.47 L-116.51,-30.3 L-118.71,-30.3Z M-125.16,-139.27 L-122.96,-139.27 L-122.96,-30.3 L-125.16,-30.3Z M-131.6,-139.27 L-129.4,-139.27 L-129.4,-30.3 L-131.6,-30.3Z M-138.04,-142.47 L-135.84,-142.47 L-135.84,-30.3 L-138.04,-30.3Z M-144.49,-139.27 L-142.29,-139.27 L-142.29,-30.3 L-144.49,-30.3Z M-150.93,-139.27 L-148.73,-139.27 L-148.73,-30.3 L-150.93,-30.3Z M-157.38,-142.47 L-155.18,-142.47 L-155.18,-30.3 L-157.38,-30.3Z M-163.82,-139.27 L-161.62,-139.27 L-161.62,-30.3 L-163.82,-30.3Z M-170.27,-139.27 L-168.07,-139.27 L-168.07,-30.3 L-170.27,-30.3Z M-176.71,-142.47 L-174.51,-142.47 L-174.51,-30.3 L-176.71,-30.3Z M-183.16,-139.27 L-180.96,-139.27 L-180.96,-30.3 L-183.16,-30.3Z M-189.6,-139.27 L-187.4,-139.27 L-187.4,-30.3 L-189.6,-30.3Z M-196.04,-142.47 L-193.84,-142.47 L-193.84,-30.3 L-196.04,-30.3Z M-202.49,-139.27 L-200.29,-139.27 L-200.29,-30.3 L-202.49,-30.3Z M-208.93,-139.27 L-206.73,-139.27 L-206.73,-30.3 L-208.93,-30.3Z M-215.38,-142.47 L-213.18,-142.47 L-213.18,-30.3 L-215.38,-30.3Z M-221.82,-139.27 L-219.62,-139.27 L-219.62,-30.3 L-221.82,-30.3Z M-228.27,-139.27 L-226.07,-139.27 L-226.07,-30.3 L-228.27,-30.3Z M-234.71,-142.47 L-232.51,-142.47 L-232.51,-30.3 L-234.71,-30.3Z M-241.16,-139.27 L-238.96,-139.27 L-238.96,-30.3 L-241.16,-30.3Z"/><g fill="#300000" fill-opacity="0.45"><ellipse cx="-1.61" cy="-140.97" rx="2.14" ry="4.5"/><ellipse cx="-8.06" cy="-137.77" rx="2.14" ry="4.5"/><ellipse cx="-14.5" cy="-137.77" rx="2.14" ry="4.5"/><ellipse cx="-20.94" cy="-140.97" rx="2.14" ry="4.5"/><ellipse cx="-27.39" cy="-137.77" rx="2.14" ry="4.5"/><ellipse cx="-33.83" cy="-137.77" rx="2.14" ry="4.5"/><ellipse cx="-40.28" cy="-140.97" rx="2.14" ry="4.5"/><ellipse cx="-46.72" cy="-137.77" rx="2.14" ry="4.5"/><ellipse cx="-53.17" cy="-137.77" rx="2.14" ry="4.5"/><ellipse cx="-59.61" cy="-140.97" rx="2.14" ry="4.5"/><ellipse cx="-66.06" cy="-137.77" rx="2.14" ry="4.5"/><ellipse cx="-72.5" cy="-137.77" rx="2.14" ry="4.5"/><ellipse cx="-78.94" cy="-140.97" rx="2.14" ry="4.5"/><ellipse cx="-85.39" cy="-137.77" rx="2.14" ry="4.5"/><ellipse cx="-91.83" cy="-137.77" rx="2.14" ry="4.5"/><ellipse cx="-98.28" cy="-140.97" rx="2.14" ry="4.5"/><ellipse cx="-104.72" cy="-137.77" rx="2.14" ry="4.5"/><ellipse cx="-111.17" cy="-137.77" rx="2.14" ry="4.5"/><ellipse cx="-117.61" cy="-140.97" rx="2.14" ry="4.5"/><ellipse cx="-124.06" cy="-137.77" rx="2.14" ry="4.5"/><ellipse cx="-130.5" cy="-137.77" rx="2.14" ry="4.5"/><ellipse cx="-136.94" cy="-140.97" rx="2.14" ry="4.5"/><ellipse cx="-143.39" cy="-137.77" rx="2.14" ry="4.5"/><ellipse cx="-149.83" cy="-137.77" rx="2.14" ry="4.5"/><ellipse cx="-156.28" cy="-140.97" rx="2.14" ry="4.5"/><ellipse cx="-162.72" cy="-137.77" rx="2.14" ry="4.5"/><ellipse cx="-169.17" cy="-137.77" rx="2.14" ry="4.5"/><ellipse cx="-175.61" cy="-140.97" rx="2.14" ry="4.5"/><ellipse cx="-182.06" cy="-137.77" rx="2.14" ry="4.5"/><ellipse cx="-188.5" cy="-137.77" rx="2.14" ry="4.5"/><ellipse cx="-194.94" cy="-140.97" rx="2.14" ry="4.5"/><ellipse cx="-201.39" cy="-137.77" rx="2.14" ry="4.5"/><ellipse cx="-207.83" cy="-137.77" rx="2.14" ry="4.5"/><ellipse cx="-214.28" cy="-140.97" rx="2.14" ry="4.5"/><ellipse cx="-220.72" cy="-137.77" rx="2.14" ry="4.5"/><ellipse cx="-227.17" cy="-137.77" rx="2.14" ry="4.5"/><ellipse cx="-233.61" cy="-140.97" rx="2.14" ry="4.5"/><ellipse cx="-240.06" cy="-137.77" rx="2.14" ry="4.5"/></g></g>
<g transform="matrix(1,0.49759,0,1,605.5,434.21)" clip-path="url(#cl)"><path fill="url(#jet)" d="M-7.62,-0 L-7.62,-4.59 L-7.62,-9.17 L-7.57,-13.76 L-7.38,-18.35 L-7.1,-22.93 L-6.76,-27.52 L-6.42,-32.11 L-6.12,-36.69 L-5.9,-41.28 L-5.82,-45.87 L-5.82,-98.93 L-5.73,-99.71 L-5.45,-100.43 L-5,-101.05 L-4.42,-101.53 L-3.75,-101.83 L-3.02,-101.93 L-3.02,-101.93 L-2.3,-101.83 L-1.62,-101.53 L-1.04,-101.05 L-0.6,-100.43 L-0.32,-99.71 L-0.22,-98.93 L-0.22,-45.87 L-0.14,-41.28 L0.08,-36.69 L0.38,-32.11 L0.72,-27.52 L1.05,-22.93 L1.34,-18.35 L1.53,-13.76 L1.58,-9.17 L1.58,-4.59 L1.58,-0Z M-19.7,-0 L-19.7,-4.68 L-19.7,-9.35 L-19.65,-14.03 L-19.47,-18.71 L-19.18,-23.38 L-18.84,-28.06 L-18.5,-32.74 L-18.2,-37.41 L-17.99,-42.09 L-17.9,-46.77 L-17.9,-100.93 L-17.81,-101.71 L-17.53,-102.43 L-17.08,-103.05 L-16.5,-103.53 L-15.83,-103.83 L-15.1,-103.93 L-15.1,-103.93 L-14.38,-103.83 L-13.7,-103.53 L-13.12,-103.05 L-12.68,-102.43 L-12.4,-101.71 L-12.3,-100.93 L-12.3,-46.77 L-12.22,-42.09 L-12.01,-37.41 L-11.71,-32.74 L-11.37,-28.06 L-11.03,-23.38 L-10.74,-18.71 L-10.55,-14.03 L-10.5,-9.35 L-10.5,-4.68 L-10.5,-0Z M-31.79,-0 L-31.79,-4.59 L-31.79,-9.17 L-31.74,-13.76 L-31.55,-18.35 L-31.26,-22.93 L-30.93,-27.52 L-30.58,-32.11 L-30.28,-36.69 L-30.07,-41.28 L-29.99,-45.87 L-29.99,-98.93 L-29.89,-99.71 L-29.61,-100.43 L-29.17,-101.05 L-28.59,-101.53 L-27.91,-101.83 L-27.19,-101.93 L-27.19,-101.93 L-26.46,-101.83 L-25.79,-101.53 L-25.21,-101.05 L-24.76,-100.43 L-24.48,-99.71 L-24.39,-98.93 L-24.39,-45.87 L-24.31,-41.28 L-24.09,-36.69 L-23.79,-32.11 L-23.45,-27.52 L-23.11,-22.93 L-22.83,-18.35 L-22.64,-13.76 L-22.59,-9.17 L-22.59,-4.59 L-22.59,-0Z M-43.87,-0 L-43.87,-4.68 L-43.87,-9.35 L-43.82,-14.03 L-43.63,-18.71 L-43.35,-23.38 L-43.01,-28.06 L-42.67,-32.74 L-42.37,-37.41 L-42.15,-42.09 L-42.07,-46.77 L-42.07,-100.93 L-41.98,-101.71 L-41.7,-102.43 L-41.25,-103.05 L-40.67,-103.53 L-40,-103.83 L-39.27,-103.93 L-39.27,-103.93 L-38.55,-103.83 L-37.87,-103.53 L-37.29,-103.05 L-36.85,-102.43 L-36.57,-101.71 L-36.47,-100.93 L-36.47,-46.77 L-36.39,-42.09 L-36.17,-37.41 L-35.87,-32.74 L-35.53,-28.06 L-35.2,-23.38 L-34.91,-18.71 L-34.72,-14.03 L-34.67,-9.35 L-34.67,-4.68 L-34.67,-0Z M-55.95,-0 L-55.95,-4.59 L-55.95,-9.17 L-55.9,-13.76 L-55.72,-18.35 L-55.43,-22.93 L-55.09,-27.52 L-54.75,-32.11 L-54.45,-36.69 L-54.24,-41.28 L-54.15,-45.87 L-54.15,-98.93 L-54.06,-99.71 L-53.78,-100.43 L-53.33,-101.05 L-52.75,-101.53 L-52.08,-101.83 L-51.35,-101.93 L-51.35,-101.93 L-50.63,-101.83 L-49.95,-101.53 L-49.37,-101.05 L-48.93,-100.43 L-48.65,-99.71 L-48.55,-98.93 L-48.55,-45.87 L-48.47,-41.28 L-48.26,-36.69 L-47.96,-32.11 L-47.62,-27.52 L-47.28,-22.93 L-46.99,-18.35 L-46.8,-13.76 L-46.75,-9.17 L-46.75,-4.59 L-46.75,-0Z M-68.04,-0 L-68.04,-4.68 L-68.04,-9.35 L-67.99,-14.03 L-67.8,-18.71 L-67.51,-23.38 L-67.18,-28.06 L-66.83,-32.74 L-66.53,-37.41 L-66.32,-42.09 L-66.24,-46.77 L-66.24,-100.93 L-66.14,-101.71 L-65.86,-102.43 L-65.42,-103.05 L-64.84,-103.53 L-64.16,-103.83 L-63.44,-103.93 L-63.44,-103.93 L-62.71,-103.83 L-62.04,-103.53 L-61.46,-103.05 L-61.01,-102.43 L-60.73,-101.71 L-60.64,-100.93 L-60.64,-46.77 L-60.56,-42.09 L-60.34,-37.41 L-60.04,-32.74 L-59.7,-28.06 L-59.36,-23.38 L-59.08,-18.71 L-58.89,-14.03 L-58.84,-9.35 L-58.84,-4.68 L-58.84,-0Z M-80.12,-0 L-80.12,-4.59 L-80.12,-9.17 L-80.07,-13.76 L-79.88,-18.35 L-79.6,-22.93 L-79.26,-27.52 L-78.92,-32.11 L-78.62,-36.69 L-78.4,-41.28 L-78.32,-45.87 L-78.32,-98.93 L-78.23,-99.71 L-77.95,-100.43 L-77.5,-101.05 L-76.92,-101.53 L-76.25,-101.83 L-75.52,-101.93 L-75.52,-101.93 L-74.8,-101.83 L-74.12,-101.53 L-73.54,-101.05 L-73.1,-100.43 L-72.82,-99.71 L-72.72,-98.93 L-72.72,-45.87 L-72.64,-41.28 L-72.42,-36.69 L-72.12,-32.11 L-71.78,-27.52 L-71.45,-22.93 L-71.16,-18.35 L-70.97,-13.76 L-70.92,-9.17 L-70.92,-4.59 L-70.92,-0Z M-92.2,-0 L-92.2,-4.68 L-92.2,-9.35 L-92.15,-14.03 L-91.97,-18.71 L-91.68,-23.38 L-91.34,-28.06 L-91,-32.74 L-90.7,-37.41 L-90.49,-42.09 L-90.4,-46.77 L-90.4,-100.93 L-90.31,-101.71 L-90.03,-102.43 L-89.58,-103.05 L-89,-103.53 L-88.33,-103.83 L-87.6,-103.93 L-87.6,-103.93 L-86.88,-103.83 L-86.2,-103.53 L-85.62,-103.05 L-85.18,-102.43 L-84.9,-101.71 L-84.8,-100.93 L-84.8,-46.77 L-84.72,-42.09 L-84.51,-37.41 L-84.21,-32.74 L-83.87,-28.06 L-83.53,-23.38 L-83.24,-18.71 L-83.05,-14.03 L-83,-9.35 L-83,-4.68 L-83,-0Z M-104.29,-0 L-104.29,-4.59 L-104.29,-9.17 L-104.24,-13.76 L-104.05,-18.35 L-103.76,-22.93 L-103.43,-27.52 L-103.08,-32.11 L-102.78,-36.69 L-102.57,-41.28 L-102.49,-45.87 L-102.49,-98.93 L-102.39,-99.71 L-102.11,-100.43 L-101.67,-101.05 L-101.09,-101.53 L-100.41,-101.83 L-99.69,-101.93 L-99.69,-101.93 L-98.96,-101.83 L-98.29,-101.53 L-97.71,-101.05 L-97.26,-100.43 L-96.98,-99.71 L-96.89,-98.93 L-96.89,-45.87 L-96.81,-41.28 L-96.59,-36.69 L-96.29,-32.11 L-95.95,-27.52 L-95.61,-22.93 L-95.33,-18.35 L-95.14,-13.76 L-95.09,-9.17 L-95.09,-4.59 L-95.09,-0Z M-116.37,-0 L-116.37,-4.68 L-116.37,-9.35 L-116.32,-14.03 L-116.13,-18.71 L-115.85,-23.38 L-115.51,-28.06 L-115.17,-32.74 L-114.87,-37.41 L-114.65,-42.09 L-114.57,-46.77 L-114.57,-100.93 L-114.48,-101.71 L-114.2,-102.43 L-113.75,-103.05 L-113.17,-103.53 L-112.5,-103.83 L-111.77,-103.93 L-111.77,-103.93 L-111.05,-103.83 L-110.37,-103.53 L-109.79,-103.05 L-109.35,-102.43 L-109.07,-101.71 L-108.97,-100.93 L-108.97,-46.77 L-108.89,-42.09 L-108.67,-37.41 L-108.37,-32.74 L-108.03,-28.06 L-107.7,-23.38 L-107.41,-18.71 L-107.22,-14.03 L-107.17,-9.35 L-107.17,-4.68 L-107.17,-0Z M-128.45,-0 L-128.45,-4.59 L-128.45,-9.17 L-128.4,-13.76 L-128.22,-18.35 L-127.93,-22.93 L-127.59,-27.52 L-127.25,-32.11 L-126.95,-36.69 L-126.74,-41.28 L-126.65,-45.87 L-126.65,-98.93 L-126.56,-99.71 L-126.28,-100.43 L-125.83,-101.05 L-125.25,-101.53 L-124.58,-101.83 L-123.85,-101.93 L-123.85,-101.93 L-123.13,-101.83 L-122.45,-101.53 L-121.87,-101.05 L-121.43,-100.43 L-121.15,-99.71 L-121.05,-98.93 L-121.05,-45.87 L-120.97,-41.28 L-120.76,-36.69 L-120.46,-32.11 L-120.12,-27.52 L-119.78,-22.93 L-119.49,-18.35 L-119.3,-13.76 L-119.25,-9.17 L-119.25,-4.59 L-119.25,-0Z M-140.54,-0 L-140.54,-4.68 L-140.54,-9.35 L-140.49,-14.03 L-140.3,-18.71 L-140.01,-23.38 L-139.68,-28.06 L-139.33,-32.74 L-139.03,-37.41 L-138.82,-42.09 L-138.74,-46.77 L-138.74,-100.93 L-138.64,-101.71 L-138.36,-102.43 L-137.92,-103.05 L-137.34,-103.53 L-136.66,-103.83 L-135.94,-103.93 L-135.94,-103.93 L-135.21,-103.83 L-134.54,-103.53 L-133.96,-103.05 L-133.51,-102.43 L-133.23,-101.71 L-133.14,-100.93 L-133.14,-46.77 L-133.06,-42.09 L-132.84,-37.41 L-132.54,-32.74 L-132.2,-28.06 L-131.86,-23.38 L-131.58,-18.71 L-131.39,-14.03 L-131.34,-9.35 L-131.34,-4.68 L-131.34,-0Z M-152.62,-0 L-152.62,-4.59 L-152.62,-9.17 L-152.57,-13.76 L-152.38,-18.35 L-152.1,-22.93 L-151.76,-27.52 L-151.42,-32.11 L-151.12,-36.69 L-150.9,-41.28 L-150.82,-45.87 L-150.82,-98.93 L-150.73,-99.71 L-150.45,-100.43 L-150,-101.05 L-149.42,-101.53 L-148.75,-101.83 L-148.02,-101.93 L-148.02,-101.93 L-147.3,-101.83 L-146.62,-101.53 L-146.04,-101.05 L-145.6,-100.43 L-145.32,-99.71 L-145.22,-98.93 L-145.22,-45.87 L-145.14,-41.28 L-144.92,-36.69 L-144.62,-32.11 L-144.28,-27.52 L-143.95,-22.93 L-143.66,-18.35 L-143.47,-13.76 L-143.42,-9.17 L-143.42,-4.59 L-143.42,-0Z M-164.7,-0 L-164.7,-4.68 L-164.7,-9.35 L-164.65,-14.03 L-164.47,-18.71 L-164.18,-23.38 L-163.84,-28.06 L-163.5,-32.74 L-163.2,-37.41 L-162.99,-42.09 L-162.9,-46.77 L-162.9,-100.93 L-162.81,-101.71 L-162.53,-102.43 L-162.08,-103.05 L-161.5,-103.53 L-160.83,-103.83 L-160.1,-103.93 L-160.1,-103.93 L-159.38,-103.83 L-158.7,-103.53 L-158.12,-103.05 L-157.68,-102.43 L-157.4,-101.71 L-157.3,-100.93 L-157.3,-46.77 L-157.22,-42.09 L-157.01,-37.41 L-156.71,-32.74 L-156.37,-28.06 L-156.03,-23.38 L-155.74,-18.71 L-155.55,-14.03 L-155.5,-9.35 L-155.5,-4.68 L-155.5,-0Z M-176.79,-0 L-176.79,-4.59 L-176.79,-9.17 L-176.74,-13.76 L-176.55,-18.35 L-176.26,-22.93 L-175.93,-27.52 L-175.58,-32.11 L-175.28,-36.69 L-175.07,-41.28 L-174.99,-45.87 L-174.99,-98.93 L-174.89,-99.71 L-174.61,-100.43 L-174.17,-101.05 L-173.59,-101.53 L-172.91,-101.83 L-172.19,-101.93 L-172.19,-101.93 L-171.46,-101.83 L-170.79,-101.53 L-170.21,-101.05 L-169.76,-100.43 L-169.48,-99.71 L-169.39,-98.93 L-169.39,-45.87 L-169.31,-41.28 L-169.09,-36.69 L-168.79,-32.11 L-168.45,-27.52 L-168.11,-22.93 L-167.83,-18.35 L-167.64,-13.76 L-167.59,-9.17 L-167.59,-4.59 L-167.59,-0Z M-188.87,-0 L-188.87,-4.68 L-188.87,-9.35 L-188.82,-14.03 L-188.63,-18.71 L-188.35,-23.38 L-188.01,-28.06 L-187.67,-32.74 L-187.37,-37.41 L-187.15,-42.09 L-187.07,-46.77 L-187.07,-100.93 L-186.98,-101.71 L-186.7,-102.43 L-186.25,-103.05 L-185.67,-103.53 L-185,-103.83 L-184.27,-103.93 L-184.27,-103.93 L-183.55,-103.83 L-182.87,-103.53 L-182.29,-103.05 L-181.85,-102.43 L-181.57,-101.71 L-181.47,-100.93 L-181.47,-46.77 L-181.39,-42.09 L-181.17,-37.41 L-180.87,-32.74 L-180.53,-28.06 L-180.2,-23.38 L-179.91,-18.71 L-179.72,-14.03 L-179.67,-9.35 L-179.67,-4.68 L-179.67,-0Z M-200.95,-0 L-200.95,-4.59 L-200.95,-9.17 L-200.9,-13.76 L-200.72,-18.35 L-200.43,-22.93 L-200.09,-27.52 L-199.75,-32.11 L-199.45,-36.69 L-199.24,-41.28 L-199.15,-45.87 L-199.15,-98.93 L-199.06,-99.71 L-198.78,-100.43 L-198.33,-101.05 L-197.75,-101.53 L-197.08,-101.83 L-196.35,-101.93 L-196.35,-101.93 L-195.63,-101.83 L-194.95,-101.53 L-194.37,-101.05 L-193.93,-100.43 L-193.65,-99.71 L-193.55,-98.93 L-193.55,-45.87 L-193.47,-41.28 L-193.26,-36.69 L-192.96,-32.11 L-192.62,-27.52 L-192.28,-22.93 L-191.99,-18.35 L-191.8,-13.76 L-191.75,-9.17 L-191.75,-4.59 L-191.75,-0Z M-213.04,-0 L-213.04,-4.68 L-213.04,-9.35 L-212.99,-14.03 L-212.8,-18.71 L-212.51,-23.38 L-212.18,-28.06 L-211.83,-32.74 L-211.53,-37.41 L-211.32,-42.09 L-211.24,-46.77 L-211.24,-100.93 L-211.14,-101.71 L-210.86,-102.43 L-210.42,-103.05 L-209.84,-103.53 L-209.16,-103.83 L-208.44,-103.93 L-208.44,-103.93 L-207.71,-103.83 L-207.04,-103.53 L-206.46,-103.05 L-206.01,-102.43 L-205.73,-101.71 L-205.64,-100.93 L-205.64,-46.77 L-205.56,-42.09 L-205.34,-37.41 L-205.04,-32.74 L-204.7,-28.06 L-204.36,-23.38 L-204.08,-18.71 L-203.89,-14.03 L-203.84,-9.35 L-203.84,-4.68 L-203.84,-0Z M-225.12,-0 L-225.12,-4.59 L-225.12,-9.17 L-225.07,-13.76 L-224.88,-18.35 L-224.6,-22.93 L-224.26,-27.52 L-223.92,-32.11 L-223.62,-36.69 L-223.4,-41.28 L-223.32,-45.87 L-223.32,-98.93 L-223.23,-99.71 L-222.95,-100.43 L-222.5,-101.05 L-221.92,-101.53 L-221.25,-101.83 L-220.52,-101.93 L-220.52,-101.93 L-219.8,-101.83 L-219.12,-101.53 L-218.54,-101.05 L-218.1,-100.43 L-217.82,-99.71 L-217.72,-98.93 L-217.72,-45.87 L-217.64,-41.28 L-217.42,-36.69 L-217.12,-32.11 L-216.78,-27.52 L-216.45,-22.93 L-216.16,-18.35 L-215.97,-13.76 L-215.92,-9.17 L-215.92,-4.59 L-215.92,-0Z M-237.2,-0 L-237.2,-4.68 L-237.2,-9.35 L-237.15,-14.03 L-236.97,-18.71 L-236.68,-23.38 L-236.34,-28.06 L-236,-32.74 L-235.7,-37.41 L-235.49,-42.09 L-235.4,-46.77 L-235.4,-100.93 L-235.31,-101.71 L-235.03,-102.43 L-234.58,-103.05 L-234,-103.53 L-233.33,-103.83 L-232.6,-103.93 L-232.6,-103.93 L-231.88,-103.83 L-231.2,-103.53 L-230.62,-103.05 L-230.18,-102.43 L-229.9,-101.71 L-229.8,-100.93 L-229.8,-46.77 L-229.72,-42.09 L-229.51,-37.41 L-229.21,-32.74 L-228.87,-28.06 L-228.53,-23.38 L-228.24,-18.71 L-228.05,-14.03 L-228,-9.35 L-228,-4.68 L-228,-0Z M-249.29,-0 L-249.29,-4.42 L-249.29,-8.84 L-249.24,-13.26 L-249.05,-17.68 L-248.76,-22.1 L-248.43,-26.52 L-248.08,-30.94 L-247.78,-35.36 L-247.57,-39.78 L-247.49,-44.2 L-247.49,-95.21 L-247.39,-95.99 L-247.11,-96.71 L-246.67,-97.33 L-246.09,-97.81 L-245.41,-98.11 L-244.69,-98.21 L-244.69,-98.21 L-243.96,-98.11 L-243.29,-97.81 L-242.71,-97.33 L-242.26,-96.71 L-241.98,-95.99 L-241.89,-95.21 L-241.89,-44.2 L-241.81,-39.78 L-241.59,-35.36 L-241.29,-30.94 L-240.95,-26.52 L-240.61,-22.1 L-240.33,-17.68 L-240.14,-13.26 L-240.09,-8.84 L-240.09,-4.42 L-240.09,-0Z"/><path fill="url(#dk)" d="M-4.42,-99.93 L-1.62,-99.93 L-1.62,-30.3 L-4.42,-30.3Z M-16.5,-101.93 L-13.7,-101.93 L-13.7,-30.3 L-16.5,-30.3Z M-28.59,-99.93 L-25.79,-99.93 L-25.79,-30.3 L-28.59,-30.3Z M-40.67,-101.93 L-37.87,-101.93 L-37.87,-30.3 L-40.67,-30.3Z M-52.75,-99.93 L-49.95,-99.93 L-49.95,-30.3 L-52.75,-30.3Z M-64.84,-101.93 L-62.04,-101.93 L-62.04,-30.3 L-64.84,-30.3Z M-76.92,-99.93 L-74.12,-99.93 L-74.12,-30.3 L-76.92,-30.3Z M-89,-101.93 L-86.2,-101.93 L-86.2,-30.3 L-89,-30.3Z M-101.09,-99.93 L-98.29,-99.93 L-98.29,-30.3 L-101.09,-30.3Z M-113.17,-101.93 L-110.37,-101.93 L-110.37,-30.3 L-113.17,-30.3Z M-125.25,-99.93 L-122.45,-99.93 L-122.45,-30.3 L-125.25,-30.3Z M-137.34,-101.93 L-134.54,-101.93 L-134.54,-30.3 L-137.34,-30.3Z M-149.42,-99.93 L-146.62,-99.93 L-146.62,-30.3 L-149.42,-30.3Z M-161.5,-101.93 L-158.7,-101.93 L-158.7,-30.3 L-161.5,-30.3Z M-173.59,-99.93 L-170.79,-99.93 L-170.79,-30.3 L-173.59,-30.3Z M-185.67,-101.93 L-182.87,-101.93 L-182.87,-30.3 L-185.67,-30.3Z M-197.75,-99.93 L-194.95,-99.93 L-194.95,-30.3 L-197.75,-30.3Z M-209.84,-101.93 L-207.04,-101.93 L-207.04,-30.3 L-209.84,-30.3Z M-221.92,-99.93 L-219.12,-99.93 L-219.12,-30.3 L-221.92,-30.3Z M-234,-101.93 L-231.2,-101.93 L-231.2,-30.3 L-234,-30.3Z M-246.09,-96.21 L-243.29,-96.21 L-243.29,-30.3 L-246.09,-30.3Z"/><g fill="#300000" fill-opacity="0.3"><ellipse cx="-3.02" cy="-98.43" rx="2.66" ry="4.5"/><ellipse cx="-15.1" cy="-100.43" rx="2.66" ry="4.5"/><ellipse cx="-27.19" cy="-98.43" rx="2.66" ry="4.5"/><ellipse cx="-39.27" cy="-100.43" rx="2.66" ry="4.5"/><ellipse cx="-51.35" cy="-98.43" rx="2.66" ry="4.5"/><ellipse cx="-63.44" cy="-100.43" rx="2.66" ry="4.5"/><ellipse cx="-75.52" cy="-98.43" rx="2.66" ry="4.5"/><ellipse cx="-87.6" cy="-100.43" rx="2.66" ry="4.5"/><ellipse cx="-99.69" cy="-98.43" rx="2.66" ry="4.5"/><ellipse cx="-111.77" cy="-100.43" rx="2.66" ry="4.5"/><ellipse cx="-123.85" cy="-98.43" rx="2.66" ry="4.5"/><ellipse cx="-135.94" cy="-100.43" rx="2.66" ry="4.5"/><ellipse cx="-148.02" cy="-98.43" rx="2.66" ry="4.5"/><ellipse cx="-160.1" cy="-100.43" rx="2.66" ry="4.5"/><ellipse cx="-172.19" cy="-98.43" rx="2.66" ry="4.5"/><ellipse cx="-184.27" cy="-100.43" rx="2.66" ry="4.5"/><ellipse cx="-196.35" cy="-98.43" rx="2.66" ry="4.5"/><ellipse cx="-208.44" cy="-100.43" rx="2.66" ry="4.5"/><ellipse cx="-220.52" cy="-98.43" rx="2.66" ry="4.5"/><ellipse cx="-232.6" cy="-100.43" rx="2.66" ry="4.5"/><ellipse cx="-244.69" cy="-94.71" rx="2.66" ry="4.5"/></g></g>
</g>
<path d="M94,110.5 L94,565 M94,565 L384,709.3 M384,709.3 L822,614.7 M94,565 L83.44,559.74 M94,489.25 L83.44,483.99 M94,413.5 L83.44,408.24 M94,337.75 L83.44,332.49 M94,262 L83.44,256.74 M94,186.25 L83.44,180.99 M94,110.5 L83.44,105.24 M384,709.3 L372.47,711.79 M287.33,661.2 L275.8,663.69 M190.67,613.1 L179.13,615.59 M94,565 L82.47,567.49 M384,709.3 L394.56,714.56 M493.5,685.65 L504.06,690.91 M603,662 L613.56,667.26 M712.5,638.35 L723.06,643.61 M822,614.7 L832.56,619.96" fill="none" stroke="#2a2a2a" stroke-width="2.1" stroke-linecap="butt"/>
<text x="70.5" y="569.13" font-size="25.5" text-anchor="end">-3</text>
<text x="70.5" y="493.38" font-size="25.5" text-anchor="end">-2</text>
<text x="70.5" y="417.63" font-size="25.5" text-anchor="end">-1</text>
<text x="70.5" y="341.88" font-size="25.5" text-anchor="end">0</text>
<text x="70.5" y="266.13" font-size="25.5" text-anchor="end">1</text>
<text x="70.5" y="190.38" font-size="25.5" text-anchor="end">2</text>
<text x="70.5" y="114.63" font-size="25.5" text-anchor="end">3</text>
<text x="359.5" y="742.93" font-size="25.5" text-anchor="end">0</text>
<text x="262.83" y="694.83" font-size="25.5" text-anchor="end">10</text>
<text x="166.17" y="646.73" font-size="25.5" text-anchor="end">20</text>
<text x="69.5" y="598.63" font-size="25.5" text-anchor="end">30</text>
<text x="403.5" y="747.93" font-size="25.5">0</text>
<text x="513" y="724.28" font-size="25.5">0.5</text>
<text x="622.5" y="700.63" font-size="25.5">1</text>
<text x="732" y="676.98" font-size="25.5">1.5</text>
<text x="841.5" y="653.33" font-size="25.5">2</text>
<text x="107.5" y="752.2" font-size="30">Time(ms)</text>
<text x="576" y="764" font-size="30">Distance(km)</text>
<text transform="translate(31.7,426.5) rotate(-90)" font-size="29.3">Ampiltude(rad)</text>
<rect x="903.8" y="16.1" width="54.7" height="693" fill="url(#cb)" stroke="#262626" stroke-width="1.2"/>
<text x="969" y="101.14" font-size="25">1.5</text>
<text x="969" y="191.95" font-size="25">1</text>
<text x="969" y="282.75" font-size="25">0.5</text>
<text x="969" y="373.55" font-size="25">0</text>
<text x="969" y="464.35" font-size="25">-0.5</text>
<text x="969" y="555.15" font-size="25">-1</text>
<text x="969" y="645.96" font-size="25">-1.5</text>
<path d="M951,90.19 L958.5,90.19 M951,181 L958.5,181 M951,271.8 L958.5,271.8 M951,362.6 L958.5,362.6 M951,453.4 L958.5,453.4 M951,544.2 L958.5,544.2 M951,635.01 L958.5,635.01" fill="none" stroke="#262626" stroke-width="1.6"/>
</svg></body></html>
